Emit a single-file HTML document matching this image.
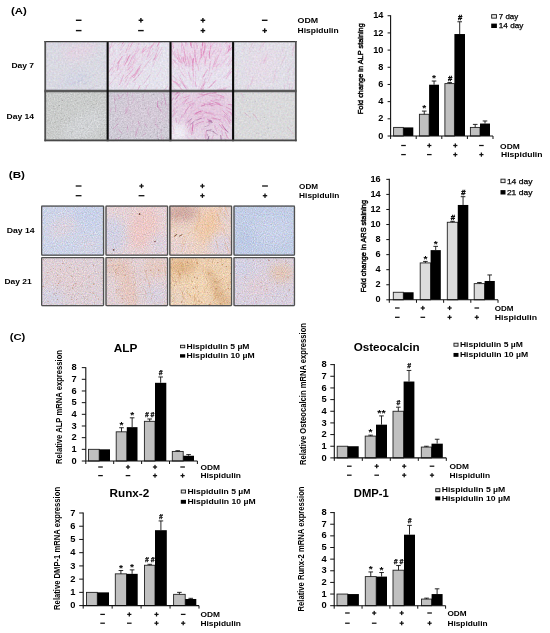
<!DOCTYPE html>
<html><head><meta charset="utf-8"><title>Figure</title>
<style>html,body{margin:0;padding:0;background:#fff}svg{display:block}text{font-family:"Liberation Sans",Arial,sans-serif}</style>
</head><body>
<svg width="550" height="633" viewBox="0 0 550 633">
<defs>
<filter id="nzA" x="0" y="0" width="1" height="1" color-interpolation-filters="sRGB">
<feTurbulence type="fractalNoise" baseFrequency="0.55" numOctaves="2" seed="5" result="t"/>
<feColorMatrix in="t" type="matrix" values="0.6 0.2 0.2 0 0  0.2 0.6 0.2 0 0  0.2 0.2 0.6 0 0  0 0 0 0 1" result="t2"/>
<feComposite in="SourceGraphic" in2="t2" operator="arithmetic" k1="0" k2="1" k3="0.22" k4="-0.11"/>
</filter>
<filter id="nzA2" x="0" y="0" width="1" height="1" color-interpolation-filters="sRGB">
<feTurbulence type="fractalNoise" baseFrequency="0.7" numOctaves="2" seed="9" result="t"/>
<feColorMatrix in="t" type="matrix" values="0.4 0.3 0.3 0 0  0.3 0.4 0.3 0 0  0.3 0.3 0.4 0 0  0 0 0 0 1" result="t2"/>
<feComposite in="SourceGraphic" in2="t2" operator="arithmetic" k1="0" k2="1" k3="0.34" k4="-0.175"/>
</filter>
<filter id="nzB" x="0" y="0" width="1" height="1" color-interpolation-filters="sRGB">
<feTurbulence type="fractalNoise" baseFrequency="0.9" numOctaves="2" seed="21" result="t"/>
<feColorMatrix in="t" type="matrix" values="0.7 0.15 0.15 0 0  0.2 0.6 0.2 0 0  0.15 0.15 0.7 0 0  0 0 0 0 1" result="t2"/>
<feComposite in="SourceGraphic" in2="t2" operator="arithmetic" k1="0" k2="1" k3="0.42" k4="-0.21"/>
</filter>
<filter id="bl3" x="-0.5" y="-0.5" width="2" height="2"><feGaussianBlur stdDeviation="3"/></filter>
<filter id="bl5" x="-0.5" y="-0.5" width="2" height="2"><feGaussianBlur stdDeviation="5"/></filter>
<filter id="bl8" x="-0.5" y="-0.5" width="2" height="2"><feGaussianBlur stdDeviation="8"/></filter>
<filter id="bl04" x="-0.2" y="-0.2" width="1.4" height="1.4"><feGaussianBlur stdDeviation="0.35"/></filter>
<clipPath id="cp1"><rect x="44.4" y="41.1" width="63.25" height="49.80"/></clipPath>
<clipPath id="cp2"><rect x="107.65" y="41.1" width="62.85" height="49.80"/></clipPath>
<clipPath id="cp3"><rect x="170.5" y="41.1" width="62.60" height="49.80"/></clipPath>
<clipPath id="cp4"><rect x="233.1" y="41.1" width="63.60" height="49.80"/></clipPath>
<clipPath id="cp5"><rect x="44.4" y="90.9" width="63.25" height="50.40"/></clipPath>
<clipPath id="cp6"><rect x="107.65" y="90.9" width="62.85" height="50.40"/></clipPath>
<clipPath id="cp7"><rect x="170.5" y="90.9" width="62.60" height="50.40"/></clipPath>
<clipPath id="cp8"><rect x="233.1" y="90.9" width="63.60" height="50.40"/></clipPath>
<clipPath id="cp9"><rect x="41.0" y="205.4" width="63.20" height="50.30"/></clipPath>
<clipPath id="cp10"><rect x="105.4" y="205.4" width="62.80" height="50.30"/></clipPath>
<clipPath id="cp11"><rect x="169.2" y="205.4" width="63.00" height="50.30"/></clipPath>
<clipPath id="cp12"><rect x="233.4" y="205.4" width="61.70" height="50.30"/></clipPath>
<clipPath id="cp13"><rect x="41.0" y="256.9" width="63.20" height="49.30"/></clipPath>
<clipPath id="cp14"><rect x="105.4" y="256.9" width="62.80" height="49.30"/></clipPath>
<clipPath id="cp15"><rect x="169.2" y="256.9" width="63.00" height="49.30"/></clipPath>
<clipPath id="cp16"><rect x="233.4" y="256.9" width="61.70" height="49.30"/></clipPath>
</defs>
<rect width="550" height="633" fill="#fff"/>
<rect x="393.60" y="127.41" width="9.70" height="8.59" fill="#c0c0c0" stroke="#222" stroke-width="0.9"/>
<rect x="403.30" y="127.41" width="10.00" height="8.59" fill="#000"/>
<rect x="419.40" y="114.27" width="9.70" height="21.73" fill="#c0c0c0" stroke="#222" stroke-width="0.9"/>
<rect x="429.10" y="84.72" width="9.90" height="51.28" fill="#000"/>
<path d="M424.25 114.27V111.09M421.95 111.09H426.55" stroke="#111" stroke-width="0.9" fill="none"/>
<text x="422.25" y="111.29" font-size="9.4" font-weight="bold" fill="#000" textLength="4.00" lengthAdjust="spacingAndGlyphs">*</text>
<path d="M434.05 84.72V81.02M431.75 81.02H436.35" stroke="#111" stroke-width="0.9" fill="none"/>
<text x="432.05" y="81.22" font-size="9.4" font-weight="bold" fill="#000" textLength="4.00" lengthAdjust="spacingAndGlyphs">*</text>
<rect x="444.90" y="83.60" width="9.50" height="52.40" fill="#c0c0c0" stroke="#222" stroke-width="0.9"/>
<rect x="454.40" y="34.04" width="10.60" height="101.96" fill="#000"/>
<path d="M449.65 83.60V82.57M447.35 82.57H451.95" stroke="#111" stroke-width="0.9" fill="none"/>
<text x="447.90" y="81.17" font-size="7" font-weight="bold" fill="#000" textLength="4.30" lengthAdjust="spacingAndGlyphs" stroke="#000" stroke-width="0.3">#</text>
<path d="M459.70 34.04V21.75M457.40 21.75H462.00" stroke="#111" stroke-width="0.9" fill="none"/>
<text x="457.95" y="20.35" font-size="7" font-weight="bold" fill="#000" textLength="4.30" lengthAdjust="spacingAndGlyphs" stroke="#000" stroke-width="0.3">#</text>
<rect x="470.40" y="127.41" width="9.60" height="8.59" fill="#c0c0c0" stroke="#222" stroke-width="0.9"/>
<rect x="480.00" y="123.54" width="10.00" height="12.46" fill="#000"/>
<path d="M475.20 127.41V124.40M472.90 124.40H477.50" stroke="#111" stroke-width="0.9" fill="none"/>
<path d="M485.00 123.54V120.97M482.70 120.97H487.30" stroke="#111" stroke-width="0.9" fill="none"/>
<path d="M390.60 15.24V136.00H493.00" stroke="#111" stroke-width="1.1" fill="none"/>
<path d="M387.60 136.00H390.60" stroke="#111" stroke-width="1"/>
<text x="378.30" y="138.60" font-size="8.3" font-weight="bold" fill="#000" textLength="5.10" lengthAdjust="spacingAndGlyphs">0</text>
<path d="M387.60 118.82H390.60" stroke="#111" stroke-width="1"/>
<text x="378.30" y="121.42" font-size="8.3" font-weight="bold" fill="#000" textLength="5.10" lengthAdjust="spacingAndGlyphs">2</text>
<path d="M387.60 101.64H390.60" stroke="#111" stroke-width="1"/>
<text x="378.30" y="104.24" font-size="8.3" font-weight="bold" fill="#000" textLength="5.10" lengthAdjust="spacingAndGlyphs">4</text>
<path d="M387.60 84.46H390.60" stroke="#111" stroke-width="1"/>
<text x="378.30" y="87.06" font-size="8.3" font-weight="bold" fill="#000" textLength="5.10" lengthAdjust="spacingAndGlyphs">6</text>
<path d="M387.60 67.28H390.60" stroke="#111" stroke-width="1"/>
<text x="378.30" y="69.88" font-size="8.3" font-weight="bold" fill="#000" textLength="5.10" lengthAdjust="spacingAndGlyphs">8</text>
<path d="M387.60 50.10H390.60" stroke="#111" stroke-width="1"/>
<text x="373.20" y="52.70" font-size="8.3" font-weight="bold" fill="#000" textLength="10.20" lengthAdjust="spacingAndGlyphs">10</text>
<path d="M387.60 32.92H390.60" stroke="#111" stroke-width="1"/>
<text x="373.20" y="35.52" font-size="8.3" font-weight="bold" fill="#000" textLength="10.20" lengthAdjust="spacingAndGlyphs">12</text>
<path d="M387.60 15.74H390.60" stroke="#111" stroke-width="1"/>
<text x="373.20" y="18.34" font-size="8.3" font-weight="bold" fill="#000" textLength="10.20" lengthAdjust="spacingAndGlyphs">14</text>
<path d="M390.60 136.00V139.00" stroke="#111" stroke-width="1"/>
<path d="M416.20 136.00V139.00" stroke="#111" stroke-width="1"/>
<path d="M441.80 136.00V139.00" stroke="#111" stroke-width="1"/>
<path d="M467.40 136.00V139.00" stroke="#111" stroke-width="1"/>
<path d="M493.00 136.00V139.00" stroke="#111" stroke-width="1"/>
<text transform="translate(363.30,68.70) rotate(-90)" x="-45.50" y="0" font-size="8" font-weight="normal" fill="#000" textLength="91.00" lengthAdjust="spacingAndGlyphs" stroke="#000" stroke-width="0.45">Fold change in ALP staining</text>
<rect x="401.20" y="144.88" width="4.6" height="1.25" fill="#111"/>
<rect x="401.20" y="153.97" width="4.6" height="1.25" fill="#111"/>
<rect x="427.20" y="144.88" width="4.2" height="1.25" fill="#111"/>
<rect x="428.68" y="143.40" width="1.25" height="4.2" fill="#111"/>
<rect x="427.00" y="153.97" width="4.6" height="1.25" fill="#111"/>
<rect x="453.20" y="144.88" width="4.2" height="1.25" fill="#111"/>
<rect x="454.68" y="143.40" width="1.25" height="4.2" fill="#111"/>
<rect x="453.20" y="153.97" width="4.2" height="1.25" fill="#111"/>
<rect x="454.68" y="152.50" width="1.25" height="4.2" fill="#111"/>
<rect x="479.10" y="144.88" width="4.6" height="1.25" fill="#111"/>
<rect x="479.30" y="153.97" width="4.2" height="1.25" fill="#111"/>
<rect x="480.77" y="152.50" width="1.25" height="4.2" fill="#111"/>
<text x="500.10" y="148.70" font-size="7" font-weight="bold" fill="#000" textLength="19.70" lengthAdjust="spacingAndGlyphs">ODM</text>
<text x="501.00" y="156.70" font-size="7" font-weight="bold" fill="#000" textLength="41.40" lengthAdjust="spacingAndGlyphs">Hispidulin</text>
<rect x="491.65" y="14.65" width="4.80" height="3.50" fill="#e4e4e4" stroke="#1a1a1a" stroke-width="0.9"/>
<rect x="491.20" y="23.60" width="5.70" height="4.40" fill="#000"/>
<text x="498.80" y="18.76" font-size="7.6" font-weight="normal" fill="#000" textLength="19.40" lengthAdjust="spacingAndGlyphs" stroke="#000" stroke-width="0.25">7 day</text>
<text x="498.80" y="28.16" font-size="7.6" font-weight="normal" fill="#000" textLength="24.60" lengthAdjust="spacingAndGlyphs" stroke="#000" stroke-width="0.25">14 day</text>
<rect x="393.30" y="292.27" width="10.00" height="7.53" fill="#dcdcdc" stroke="#222" stroke-width="0.9"/>
<rect x="403.30" y="292.27" width="10.30" height="7.53" fill="#000"/>
<rect x="420.20" y="262.92" width="10.40" height="36.88" fill="#dcdcdc" stroke="#222" stroke-width="0.9"/>
<rect x="430.60" y="250.12" width="10.20" height="49.68" fill="#000"/>
<path d="M425.40 262.92V261.41M423.10 261.41H427.70" stroke="#111" stroke-width="0.9" fill="none"/>
<text x="423.40" y="261.61" font-size="9.4" font-weight="bold" fill="#000" textLength="4.00" lengthAdjust="spacingAndGlyphs">*</text>
<path d="M435.70 250.12V246.36M433.40 246.36H438.00" stroke="#111" stroke-width="0.9" fill="none"/>
<text x="433.70" y="246.56" font-size="9.4" font-weight="bold" fill="#000" textLength="4.00" lengthAdjust="spacingAndGlyphs">*</text>
<rect x="447.30" y="222.27" width="10.50" height="77.53" fill="#dcdcdc" stroke="#222" stroke-width="0.9"/>
<rect x="457.80" y="204.96" width="10.50" height="94.84" fill="#000"/>
<path d="M452.55 222.27V221.37M450.25 221.37H454.85" stroke="#111" stroke-width="0.9" fill="none"/>
<text x="450.80" y="219.97" font-size="7" font-weight="bold" fill="#000" textLength="4.30" lengthAdjust="spacingAndGlyphs" stroke="#000" stroke-width="0.3">#</text>
<path d="M463.05 204.96V196.68M460.75 196.68H465.35" stroke="#111" stroke-width="0.9" fill="none"/>
<text x="461.30" y="195.28" font-size="7" font-weight="bold" fill="#000" textLength="4.30" lengthAdjust="spacingAndGlyphs" stroke="#000" stroke-width="0.3">#</text>
<rect x="474.20" y="283.62" width="10.40" height="16.18" fill="#dcdcdc" stroke="#222" stroke-width="0.9"/>
<rect x="484.60" y="280.98" width="10.20" height="18.82" fill="#000"/>
<path d="M479.40 283.62V282.49M477.10 282.49H481.70" stroke="#111" stroke-width="0.9" fill="none"/>
<path d="M489.70 280.98V274.96M487.40 274.96H492.00" stroke="#111" stroke-width="0.9" fill="none"/>
<path d="M389.30 178.87V299.80H498.00" stroke="#111" stroke-width="1.1" fill="none"/>
<path d="M386.30 299.80H389.30" stroke="#111" stroke-width="1"/>
<text x="375.50" y="302.40" font-size="8.3" font-weight="bold" fill="#000" textLength="5.10" lengthAdjust="spacingAndGlyphs">0</text>
<path d="M386.30 284.75H389.30" stroke="#111" stroke-width="1"/>
<text x="375.50" y="287.35" font-size="8.3" font-weight="bold" fill="#000" textLength="5.10" lengthAdjust="spacingAndGlyphs">2</text>
<path d="M386.30 269.69H389.30" stroke="#111" stroke-width="1"/>
<text x="375.50" y="272.29" font-size="8.3" font-weight="bold" fill="#000" textLength="5.10" lengthAdjust="spacingAndGlyphs">4</text>
<path d="M386.30 254.64H389.30" stroke="#111" stroke-width="1"/>
<text x="375.50" y="257.24" font-size="8.3" font-weight="bold" fill="#000" textLength="5.10" lengthAdjust="spacingAndGlyphs">6</text>
<path d="M386.30 239.58H389.30" stroke="#111" stroke-width="1"/>
<text x="375.50" y="242.18" font-size="8.3" font-weight="bold" fill="#000" textLength="5.10" lengthAdjust="spacingAndGlyphs">8</text>
<path d="M386.30 224.53H389.30" stroke="#111" stroke-width="1"/>
<text x="370.40" y="227.13" font-size="8.3" font-weight="bold" fill="#000" textLength="10.20" lengthAdjust="spacingAndGlyphs">10</text>
<path d="M386.30 209.48H389.30" stroke="#111" stroke-width="1"/>
<text x="370.40" y="212.08" font-size="8.3" font-weight="bold" fill="#000" textLength="10.20" lengthAdjust="spacingAndGlyphs">12</text>
<path d="M386.30 194.42H389.30" stroke="#111" stroke-width="1"/>
<text x="370.40" y="197.02" font-size="8.3" font-weight="bold" fill="#000" textLength="10.20" lengthAdjust="spacingAndGlyphs">14</text>
<path d="M386.30 179.37H389.30" stroke="#111" stroke-width="1"/>
<text x="370.40" y="181.97" font-size="8.3" font-weight="bold" fill="#000" textLength="10.20" lengthAdjust="spacingAndGlyphs">16</text>
<path d="M389.30 299.80V302.80" stroke="#111" stroke-width="1"/>
<path d="M416.48 299.80V302.80" stroke="#111" stroke-width="1"/>
<path d="M443.65 299.80V302.80" stroke="#111" stroke-width="1"/>
<path d="M470.82 299.80V302.80" stroke="#111" stroke-width="1"/>
<path d="M498.00 299.80V302.80" stroke="#111" stroke-width="1"/>
<text transform="translate(366.10,246.30) rotate(-90)" x="-46.30" y="0" font-size="8" font-weight="normal" fill="#000" textLength="92.60" lengthAdjust="spacingAndGlyphs" stroke="#000" stroke-width="0.45">Fold change in ARS staining</text>
<rect x="395.00" y="307.38" width="4.6" height="1.25" fill="#111"/>
<rect x="395.00" y="316.68" width="4.6" height="1.25" fill="#111"/>
<rect x="420.70" y="307.38" width="4.2" height="1.25" fill="#111"/>
<rect x="422.18" y="305.90" width="1.25" height="4.2" fill="#111"/>
<rect x="420.50" y="316.68" width="4.6" height="1.25" fill="#111"/>
<rect x="447.50" y="307.38" width="4.2" height="1.25" fill="#111"/>
<rect x="448.98" y="305.90" width="1.25" height="4.2" fill="#111"/>
<rect x="447.50" y="316.68" width="4.2" height="1.25" fill="#111"/>
<rect x="448.98" y="315.20" width="1.25" height="4.2" fill="#111"/>
<rect x="474.50" y="307.38" width="4.6" height="1.25" fill="#111"/>
<rect x="474.70" y="316.68" width="4.2" height="1.25" fill="#111"/>
<rect x="476.18" y="315.20" width="1.25" height="4.2" fill="#111"/>
<text x="494.80" y="310.50" font-size="7" font-weight="bold" fill="#000" textLength="18.80" lengthAdjust="spacingAndGlyphs">ODM</text>
<text x="494.80" y="319.80" font-size="7" font-weight="bold" fill="#000" textLength="42.30" lengthAdjust="spacingAndGlyphs">Hispidulin</text>
<rect x="500.95" y="179.15" width="4.10" height="3.50" fill="#ececec" stroke="#1a1a1a" stroke-width="0.9"/>
<rect x="500.50" y="190.10" width="5.00" height="4.40" fill="#000"/>
<text x="506.90" y="183.64" font-size="7.6" font-weight="normal" fill="#000" textLength="25.50" lengthAdjust="spacingAndGlyphs" stroke="#000" stroke-width="0.25">14 day</text>
<text x="506.90" y="195.04" font-size="7.6" font-weight="normal" fill="#000" textLength="25.50" lengthAdjust="spacingAndGlyphs" stroke="#000" stroke-width="0.25">21 day</text>
<rect x="88.50" y="449.33" width="10.70" height="11.67" fill="#c0c0c0" stroke="#222" stroke-width="0.9"/>
<rect x="99.20" y="449.33" width="10.80" height="11.67" fill="#000"/>
<rect x="116.20" y="431.82" width="10.60" height="29.18" fill="#c0c0c0" stroke="#222" stroke-width="0.9"/>
<rect x="126.80" y="427.16" width="10.70" height="33.84" fill="#000"/>
<path d="M121.50 431.82V427.74M119.20 427.74H123.80" stroke="#111" stroke-width="0.9" fill="none"/>
<text x="119.50" y="427.94" font-size="9.4" font-weight="bold" fill="#000" textLength="4.00" lengthAdjust="spacingAndGlyphs">*</text>
<path d="M132.15 427.16V417.82M129.85 417.82H134.45" stroke="#111" stroke-width="0.9" fill="none"/>
<text x="130.15" y="418.02" font-size="9.4" font-weight="bold" fill="#000" textLength="4.00" lengthAdjust="spacingAndGlyphs">*</text>
<rect x="144.40" y="421.32" width="10.60" height="39.68" fill="#c0c0c0" stroke="#222" stroke-width="0.9"/>
<rect x="155.00" y="382.81" width="11.30" height="78.19" fill="#000"/>
<path d="M149.70 421.32V418.99M147.40 418.99H152.00" stroke="#111" stroke-width="0.9" fill="none"/>
<text x="145.05" y="416.99" font-size="6.6" font-weight="bold" fill="#000" textLength="9.30" lengthAdjust="spacingAndGlyphs" font-style="italic" stroke="#000" stroke-width="0.25"># #</text>
<path d="M160.65 382.81V376.98M158.35 376.98H162.95" stroke="#111" stroke-width="0.9" fill="none"/>
<text x="158.80" y="374.98" font-size="6.6" font-weight="bold" fill="#000" textLength="3.70" lengthAdjust="spacingAndGlyphs" font-style="italic" stroke="#000" stroke-width="0.25">#</text>
<rect x="172.30" y="451.43" width="10.90" height="9.57" fill="#c0c0c0" stroke="#222" stroke-width="0.9"/>
<rect x="183.20" y="455.75" width="10.80" height="5.25" fill="#000"/>
<path d="M177.75 451.43V450.73M175.45 450.73H180.05" stroke="#111" stroke-width="0.9" fill="none"/>
<path d="M188.60 455.75V454.58M186.30 454.58H190.90" stroke="#111" stroke-width="0.9" fill="none"/>
<path d="M85.80 367.14V461.00H197.40" stroke="#111" stroke-width="1.1" fill="none"/>
<path d="M81.80 461.00H85.80" stroke="#111" stroke-width="1"/>
<text x="71.40" y="463.60" font-size="8.3" font-weight="bold" fill="#000" textLength="5.20" lengthAdjust="spacingAndGlyphs">0</text>
<path d="M81.80 449.33H85.80" stroke="#111" stroke-width="1"/>
<text x="71.40" y="451.93" font-size="8.3" font-weight="bold" fill="#000" textLength="5.20" lengthAdjust="spacingAndGlyphs">1</text>
<path d="M81.80 437.66H85.80" stroke="#111" stroke-width="1"/>
<text x="71.40" y="440.26" font-size="8.3" font-weight="bold" fill="#000" textLength="5.20" lengthAdjust="spacingAndGlyphs">2</text>
<path d="M81.80 425.99H85.80" stroke="#111" stroke-width="1"/>
<text x="71.40" y="428.59" font-size="8.3" font-weight="bold" fill="#000" textLength="5.20" lengthAdjust="spacingAndGlyphs">3</text>
<path d="M81.80 414.32H85.80" stroke="#111" stroke-width="1"/>
<text x="71.40" y="416.92" font-size="8.3" font-weight="bold" fill="#000" textLength="5.20" lengthAdjust="spacingAndGlyphs">4</text>
<path d="M81.80 402.65H85.80" stroke="#111" stroke-width="1"/>
<text x="71.40" y="405.25" font-size="8.3" font-weight="bold" fill="#000" textLength="5.20" lengthAdjust="spacingAndGlyphs">5</text>
<path d="M81.80 390.98H85.80" stroke="#111" stroke-width="1"/>
<text x="71.40" y="393.58" font-size="8.3" font-weight="bold" fill="#000" textLength="5.20" lengthAdjust="spacingAndGlyphs">6</text>
<path d="M81.80 379.31H85.80" stroke="#111" stroke-width="1"/>
<text x="71.40" y="381.91" font-size="8.3" font-weight="bold" fill="#000" textLength="5.20" lengthAdjust="spacingAndGlyphs">7</text>
<path d="M81.80 367.64H85.80" stroke="#111" stroke-width="1"/>
<text x="71.40" y="370.24" font-size="8.3" font-weight="bold" fill="#000" textLength="5.20" lengthAdjust="spacingAndGlyphs">8</text>
<path d="M85.80 461.00V464.00" stroke="#111" stroke-width="1"/>
<path d="M113.70 461.00V464.00" stroke="#111" stroke-width="1"/>
<path d="M141.60 461.00V464.00" stroke="#111" stroke-width="1"/>
<path d="M169.50 461.00V464.00" stroke="#111" stroke-width="1"/>
<path d="M197.40 461.00V464.00" stroke="#111" stroke-width="1"/>
<text transform="translate(61.80,407.00) rotate(-90)" x="-57.00" y="0" font-size="8.2" font-weight="bold" fill="#000" textLength="114.00" lengthAdjust="spacingAndGlyphs">Relative ALP mRNA expression</text>
<rect x="98.20" y="466.38" width="4.6" height="1.25" fill="#111"/>
<rect x="98.20" y="474.98" width="4.6" height="1.25" fill="#111"/>
<rect x="125.90" y="466.38" width="4.2" height="1.25" fill="#111"/>
<rect x="127.38" y="464.90" width="1.25" height="4.2" fill="#111"/>
<rect x="125.70" y="474.98" width="4.6" height="1.25" fill="#111"/>
<rect x="152.90" y="466.38" width="4.2" height="1.25" fill="#111"/>
<rect x="154.38" y="464.90" width="1.25" height="4.2" fill="#111"/>
<rect x="152.90" y="474.98" width="4.2" height="1.25" fill="#111"/>
<rect x="154.38" y="473.50" width="1.25" height="4.2" fill="#111"/>
<rect x="180.30" y="466.38" width="4.6" height="1.25" fill="#111"/>
<rect x="180.50" y="474.98" width="4.2" height="1.25" fill="#111"/>
<rect x="181.97" y="473.50" width="1.25" height="4.2" fill="#111"/>
<text x="200.40" y="469.50" font-size="7" font-weight="bold" fill="#000" textLength="19.50" lengthAdjust="spacingAndGlyphs">ODM</text>
<text x="200.40" y="478.10" font-size="7" font-weight="bold" fill="#000" textLength="40.60" lengthAdjust="spacingAndGlyphs">Hispidulin</text>
<rect x="180.45" y="345.25" width="4.30" height="2.50" fill="#e4e4e4" stroke="#1a1a1a" stroke-width="0.9"/>
<rect x="180.00" y="354.20" width="5.20" height="3.40" fill="#000"/>
<text x="186.50" y="348.61" font-size="6.6" font-weight="bold" fill="#000" textLength="63.00" lengthAdjust="spacingAndGlyphs">Hispidulin 5 µM</text>
<text x="186.50" y="358.01" font-size="6.6" font-weight="bold" fill="#000" textLength="68.20" lengthAdjust="spacingAndGlyphs">Hispidulin 10 µM</text>
<text x="113.75" y="352.40" font-size="10.6" font-weight="bold" fill="#000" textLength="23.70" lengthAdjust="spacingAndGlyphs">ALP</text>
<rect x="337.20" y="446.24" width="10.50" height="11.66" fill="#c0c0c0" stroke="#222" stroke-width="0.9"/>
<rect x="347.70" y="446.24" width="11.00" height="11.66" fill="#000"/>
<rect x="365.20" y="436.10" width="10.80" height="21.80" fill="#c0c0c0" stroke="#222" stroke-width="0.9"/>
<rect x="376.00" y="424.67" width="11.00" height="33.23" fill="#000"/>
<path d="M370.60 436.10V435.16M368.30 435.16H372.90" stroke="#111" stroke-width="0.9" fill="none"/>
<text x="368.60" y="435.36" font-size="9.4" font-weight="bold" fill="#000" textLength="4.00" lengthAdjust="spacingAndGlyphs">*</text>
<path d="M381.50 424.67V415.92M379.20 415.92H383.80" stroke="#111" stroke-width="0.9" fill="none"/>
<text x="377.30" y="416.12" font-size="9.4" font-weight="bold" fill="#000" textLength="8.40" lengthAdjust="spacingAndGlyphs">**</text>
<rect x="393.00" y="411.26" width="10.60" height="46.64" fill="#c0c0c0" stroke="#222" stroke-width="0.9"/>
<rect x="403.60" y="381.53" width="10.80" height="76.37" fill="#000"/>
<path d="M398.30 411.26V407.18M396.00 407.18H400.60" stroke="#111" stroke-width="0.9" fill="none"/>
<text x="396.45" y="405.18" font-size="6.6" font-weight="bold" fill="#000" textLength="3.70" lengthAdjust="spacingAndGlyphs" font-style="italic" stroke="#000" stroke-width="0.25">#</text>
<path d="M409.00 381.53V370.45M406.70 370.45H411.30" stroke="#111" stroke-width="0.9" fill="none"/>
<text x="407.15" y="368.45" font-size="6.6" font-weight="bold" fill="#000" textLength="3.70" lengthAdjust="spacingAndGlyphs" font-style="italic" stroke="#000" stroke-width="0.25">#</text>
<rect x="421.30" y="447.06" width="10.20" height="10.84" fill="#c0c0c0" stroke="#222" stroke-width="0.9"/>
<rect x="431.50" y="443.67" width="11.30" height="14.23" fill="#000"/>
<path d="M426.40 447.06V446.24M424.10 446.24H428.70" stroke="#111" stroke-width="0.9" fill="none"/>
<path d="M437.15 443.67V439.24M434.85 439.24H439.45" stroke="#111" stroke-width="0.9" fill="none"/>
<path d="M334.30 364.12V457.90H446.30" stroke="#111" stroke-width="1.1" fill="none"/>
<path d="M330.30 457.90H334.30" stroke="#111" stroke-width="1"/>
<text x="321.50" y="460.50" font-size="8.3" font-weight="bold" fill="#000" textLength="5.20" lengthAdjust="spacingAndGlyphs">0</text>
<path d="M330.30 446.24H334.30" stroke="#111" stroke-width="1"/>
<text x="321.50" y="448.84" font-size="8.3" font-weight="bold" fill="#000" textLength="5.20" lengthAdjust="spacingAndGlyphs">1</text>
<path d="M330.30 434.58H334.30" stroke="#111" stroke-width="1"/>
<text x="321.50" y="437.18" font-size="8.3" font-weight="bold" fill="#000" textLength="5.20" lengthAdjust="spacingAndGlyphs">2</text>
<path d="M330.30 422.92H334.30" stroke="#111" stroke-width="1"/>
<text x="321.50" y="425.52" font-size="8.3" font-weight="bold" fill="#000" textLength="5.20" lengthAdjust="spacingAndGlyphs">3</text>
<path d="M330.30 411.26H334.30" stroke="#111" stroke-width="1"/>
<text x="321.50" y="413.86" font-size="8.3" font-weight="bold" fill="#000" textLength="5.20" lengthAdjust="spacingAndGlyphs">4</text>
<path d="M330.30 399.60H334.30" stroke="#111" stroke-width="1"/>
<text x="321.50" y="402.20" font-size="8.3" font-weight="bold" fill="#000" textLength="5.20" lengthAdjust="spacingAndGlyphs">5</text>
<path d="M330.30 387.94H334.30" stroke="#111" stroke-width="1"/>
<text x="321.50" y="390.54" font-size="8.3" font-weight="bold" fill="#000" textLength="5.20" lengthAdjust="spacingAndGlyphs">6</text>
<path d="M330.30 376.28H334.30" stroke="#111" stroke-width="1"/>
<text x="321.50" y="378.88" font-size="8.3" font-weight="bold" fill="#000" textLength="5.20" lengthAdjust="spacingAndGlyphs">7</text>
<path d="M330.30 364.62H334.30" stroke="#111" stroke-width="1"/>
<text x="321.50" y="367.22" font-size="8.3" font-weight="bold" fill="#000" textLength="5.20" lengthAdjust="spacingAndGlyphs">8</text>
<path d="M334.30 457.90V460.90" stroke="#111" stroke-width="1"/>
<path d="M362.30 457.90V460.90" stroke="#111" stroke-width="1"/>
<path d="M390.30 457.90V460.90" stroke="#111" stroke-width="1"/>
<path d="M418.30 457.90V460.90" stroke="#111" stroke-width="1"/>
<path d="M446.30 457.90V460.90" stroke="#111" stroke-width="1"/>
<text transform="translate(305.60,394.00) rotate(-90)" x="-71.00" y="0" font-size="8.2" font-weight="bold" fill="#000" textLength="142.00" lengthAdjust="spacingAndGlyphs">Relative Osteocalcin mRNA expression</text>
<rect x="347.00" y="465.57" width="4.6" height="1.25" fill="#111"/>
<rect x="347.00" y="474.57" width="4.6" height="1.25" fill="#111"/>
<rect x="374.60" y="465.57" width="4.2" height="1.25" fill="#111"/>
<rect x="376.07" y="464.10" width="1.25" height="4.2" fill="#111"/>
<rect x="374.40" y="474.57" width="4.6" height="1.25" fill="#111"/>
<rect x="402.10" y="465.57" width="4.2" height="1.25" fill="#111"/>
<rect x="403.57" y="464.10" width="1.25" height="4.2" fill="#111"/>
<rect x="402.10" y="474.57" width="4.2" height="1.25" fill="#111"/>
<rect x="403.57" y="473.10" width="1.25" height="4.2" fill="#111"/>
<rect x="429.70" y="465.57" width="4.6" height="1.25" fill="#111"/>
<rect x="429.90" y="474.57" width="4.2" height="1.25" fill="#111"/>
<rect x="431.38" y="473.10" width="1.25" height="4.2" fill="#111"/>
<text x="449.50" y="468.70" font-size="7" font-weight="bold" fill="#000" textLength="19.50" lengthAdjust="spacingAndGlyphs">ODM</text>
<text x="449.50" y="477.70" font-size="7" font-weight="bold" fill="#000" textLength="40.60" lengthAdjust="spacingAndGlyphs">Hispidulin</text>
<rect x="453.95" y="343.20" width="4.10" height="3.00" fill="#e4e4e4" stroke="#1a1a1a" stroke-width="0.9"/>
<rect x="453.50" y="352.95" width="5.00" height="3.90" fill="#000"/>
<text x="459.90" y="346.81" font-size="6.6" font-weight="bold" fill="#000" textLength="63.00" lengthAdjust="spacingAndGlyphs">Hispidulin 5 µM</text>
<text x="459.90" y="357.01" font-size="6.6" font-weight="bold" fill="#000" textLength="68.20" lengthAdjust="spacingAndGlyphs">Hispidulin 10 µM</text>
<text x="353.70" y="351.00" font-size="10" font-weight="bold" fill="#000" textLength="66.00" lengthAdjust="spacingAndGlyphs">Osteocalcin</text>
<rect x="86.50" y="592.37" width="10.80" height="13.23" fill="#c0c0c0" stroke="#222" stroke-width="0.9"/>
<rect x="97.30" y="592.37" width="11.70" height="13.23" fill="#000"/>
<rect x="115.30" y="573.85" width="11.20" height="31.75" fill="#c0c0c0" stroke="#222" stroke-width="0.9"/>
<rect x="126.50" y="573.85" width="11.20" height="31.75" fill="#000"/>
<path d="M120.90 573.85V570.54M118.60 570.54H123.20" stroke="#111" stroke-width="0.9" fill="none"/>
<text x="118.90" y="570.74" font-size="9.4" font-weight="bold" fill="#000" textLength="4.00" lengthAdjust="spacingAndGlyphs">*</text>
<path d="M132.10 573.85V569.88M129.80 569.88H134.40" stroke="#111" stroke-width="0.9" fill="none"/>
<text x="130.10" y="570.08" font-size="9.4" font-weight="bold" fill="#000" textLength="4.00" lengthAdjust="spacingAndGlyphs">*</text>
<rect x="144.50" y="565.25" width="10.50" height="40.35" fill="#c0c0c0" stroke="#222" stroke-width="0.9"/>
<rect x="155.00" y="530.19" width="11.80" height="75.41" fill="#000"/>
<path d="M149.75 565.25V564.32M147.45 564.32H152.05" stroke="#111" stroke-width="0.9" fill="none"/>
<text x="145.10" y="562.32" font-size="6.6" font-weight="bold" fill="#000" textLength="9.30" lengthAdjust="spacingAndGlyphs" font-style="italic" stroke="#000" stroke-width="0.25"># #</text>
<path d="M160.90 530.19V520.93M158.60 520.93H163.20" stroke="#111" stroke-width="0.9" fill="none"/>
<text x="159.05" y="518.93" font-size="6.6" font-weight="bold" fill="#000" textLength="3.70" lengthAdjust="spacingAndGlyphs" font-style="italic" stroke="#000" stroke-width="0.25">#</text>
<rect x="173.60" y="594.35" width="11.60" height="11.25" fill="#c0c0c0" stroke="#222" stroke-width="0.9"/>
<rect x="185.20" y="598.99" width="11.10" height="6.62" fill="#000"/>
<path d="M179.40 594.35V592.37M177.10 592.37H181.70" stroke="#111" stroke-width="0.9" fill="none"/>
<path d="M190.75 598.99V598.32M188.45 598.32H193.05" stroke="#111" stroke-width="0.9" fill="none"/>
<path d="M83.20 512.49V605.60H199.00" stroke="#111" stroke-width="1.1" fill="none"/>
<path d="M79.20 605.60H83.20" stroke="#111" stroke-width="1"/>
<text x="70.20" y="608.20" font-size="8.3" font-weight="bold" fill="#000" textLength="5.20" lengthAdjust="spacingAndGlyphs">0</text>
<path d="M79.20 592.37H83.20" stroke="#111" stroke-width="1"/>
<text x="70.20" y="594.97" font-size="8.3" font-weight="bold" fill="#000" textLength="5.20" lengthAdjust="spacingAndGlyphs">1</text>
<path d="M79.20 579.14H83.20" stroke="#111" stroke-width="1"/>
<text x="70.20" y="581.74" font-size="8.3" font-weight="bold" fill="#000" textLength="5.20" lengthAdjust="spacingAndGlyphs">2</text>
<path d="M79.20 565.91H83.20" stroke="#111" stroke-width="1"/>
<text x="70.20" y="568.51" font-size="8.3" font-weight="bold" fill="#000" textLength="5.20" lengthAdjust="spacingAndGlyphs">3</text>
<path d="M79.20 552.68H83.20" stroke="#111" stroke-width="1"/>
<text x="70.20" y="555.28" font-size="8.3" font-weight="bold" fill="#000" textLength="5.20" lengthAdjust="spacingAndGlyphs">4</text>
<path d="M79.20 539.45H83.20" stroke="#111" stroke-width="1"/>
<text x="70.20" y="542.05" font-size="8.3" font-weight="bold" fill="#000" textLength="5.20" lengthAdjust="spacingAndGlyphs">5</text>
<path d="M79.20 526.22H83.20" stroke="#111" stroke-width="1"/>
<text x="70.20" y="528.82" font-size="8.3" font-weight="bold" fill="#000" textLength="5.20" lengthAdjust="spacingAndGlyphs">6</text>
<path d="M79.20 512.99H83.20" stroke="#111" stroke-width="1"/>
<text x="70.20" y="515.59" font-size="8.3" font-weight="bold" fill="#000" textLength="5.20" lengthAdjust="spacingAndGlyphs">7</text>
<path d="M83.20 605.60V608.60" stroke="#111" stroke-width="1"/>
<path d="M112.15 605.60V608.60" stroke="#111" stroke-width="1"/>
<path d="M141.10 605.60V608.60" stroke="#111" stroke-width="1"/>
<path d="M170.05 605.60V608.60" stroke="#111" stroke-width="1"/>
<path d="M199.00 605.60V608.60" stroke="#111" stroke-width="1"/>
<text transform="translate(60.30,548.40) rotate(-90)" x="-61.50" y="0" font-size="8.2" font-weight="bold" fill="#000" textLength="123.00" lengthAdjust="spacingAndGlyphs">Relative DMP-1 mRNA expression</text>
<rect x="100.30" y="613.77" width="4.6" height="1.25" fill="#111"/>
<rect x="100.30" y="622.58" width="4.6" height="1.25" fill="#111"/>
<rect x="127.20" y="613.77" width="4.2" height="1.25" fill="#111"/>
<rect x="128.68" y="612.30" width="1.25" height="4.2" fill="#111"/>
<rect x="127.00" y="622.58" width="4.6" height="1.25" fill="#111"/>
<rect x="154.40" y="613.77" width="4.2" height="1.25" fill="#111"/>
<rect x="155.88" y="612.30" width="1.25" height="4.2" fill="#111"/>
<rect x="154.40" y="622.58" width="4.2" height="1.25" fill="#111"/>
<rect x="155.88" y="621.10" width="1.25" height="4.2" fill="#111"/>
<rect x="180.90" y="613.77" width="4.6" height="1.25" fill="#111"/>
<rect x="181.10" y="622.58" width="4.2" height="1.25" fill="#111"/>
<rect x="182.57" y="621.10" width="1.25" height="4.2" fill="#111"/>
<text x="200.40" y="616.90" font-size="7" font-weight="bold" fill="#000" textLength="19.50" lengthAdjust="spacingAndGlyphs">ODM</text>
<text x="200.40" y="625.70" font-size="7" font-weight="bold" fill="#000" textLength="40.60" lengthAdjust="spacingAndGlyphs">Hispidulin</text>
<rect x="181.25" y="490.00" width="4.30" height="3.00" fill="#e4e4e4" stroke="#1a1a1a" stroke-width="0.9"/>
<rect x="180.80" y="499.85" width="5.20" height="3.90" fill="#000"/>
<text x="187.40" y="493.61" font-size="6.6" font-weight="bold" fill="#000" textLength="63.00" lengthAdjust="spacingAndGlyphs">Hispidulin 5 µM</text>
<text x="187.40" y="503.91" font-size="6.6" font-weight="bold" fill="#000" textLength="68.20" lengthAdjust="spacingAndGlyphs">Hispidulin 10 µM</text>
<text x="109.55" y="497.00" font-size="10.6" font-weight="bold" fill="#000" textLength="39.70" lengthAdjust="spacingAndGlyphs">Runx-2</text>
<rect x="337.00" y="594.06" width="10.70" height="11.64" fill="#c0c0c0" stroke="#222" stroke-width="0.9"/>
<rect x="347.70" y="594.06" width="11.20" height="11.64" fill="#000"/>
<rect x="365.30" y="576.60" width="10.90" height="29.10" fill="#c0c0c0" stroke="#222" stroke-width="0.9"/>
<rect x="376.20" y="576.60" width="10.80" height="29.10" fill="#000"/>
<path d="M370.75 576.60V571.94M368.45 571.94H373.05" stroke="#111" stroke-width="0.9" fill="none"/>
<text x="368.75" y="572.14" font-size="9.4" font-weight="bold" fill="#000" textLength="4.00" lengthAdjust="spacingAndGlyphs">*</text>
<path d="M381.60 576.60V572.53M379.30 572.53H383.90" stroke="#111" stroke-width="0.9" fill="none"/>
<text x="379.60" y="572.73" font-size="9.4" font-weight="bold" fill="#000" textLength="4.00" lengthAdjust="spacingAndGlyphs">*</text>
<rect x="393.00" y="570.20" width="11.00" height="35.50" fill="#c0c0c0" stroke="#222" stroke-width="0.9"/>
<rect x="404.00" y="534.70" width="11.00" height="71.00" fill="#000"/>
<path d="M398.50 570.20V565.54M396.20 565.54H400.80" stroke="#111" stroke-width="0.9" fill="none"/>
<text x="393.85" y="563.54" font-size="6.6" font-weight="bold" fill="#000" textLength="9.30" lengthAdjust="spacingAndGlyphs" font-style="italic" stroke="#000" stroke-width="0.25"># #</text>
<path d="M409.50 534.70V525.38M407.20 525.38H411.80" stroke="#111" stroke-width="0.9" fill="none"/>
<text x="407.65" y="523.38" font-size="6.6" font-weight="bold" fill="#000" textLength="3.70" lengthAdjust="spacingAndGlyphs" font-style="italic" stroke="#000" stroke-width="0.25">#</text>
<rect x="421.50" y="599.07" width="10.10" height="6.63" fill="#c0c0c0" stroke="#222" stroke-width="0.9"/>
<rect x="431.60" y="594.06" width="11.00" height="11.64" fill="#000"/>
<path d="M426.55 599.07V598.13M424.25 598.13H428.85" stroke="#111" stroke-width="0.9" fill="none"/>
<path d="M437.10 594.06V588.82M434.80 588.82H439.40" stroke="#111" stroke-width="0.9" fill="none"/>
<path d="M334.20 512.08V605.70H445.60" stroke="#111" stroke-width="1.1" fill="none"/>
<path d="M330.20 605.70H334.20" stroke="#111" stroke-width="1"/>
<text x="321.50" y="608.30" font-size="8.3" font-weight="bold" fill="#000" textLength="5.20" lengthAdjust="spacingAndGlyphs">0</text>
<path d="M330.20 594.06H334.20" stroke="#111" stroke-width="1"/>
<text x="321.50" y="596.66" font-size="8.3" font-weight="bold" fill="#000" textLength="5.20" lengthAdjust="spacingAndGlyphs">1</text>
<path d="M330.20 582.42H334.20" stroke="#111" stroke-width="1"/>
<text x="321.50" y="585.02" font-size="8.3" font-weight="bold" fill="#000" textLength="5.20" lengthAdjust="spacingAndGlyphs">2</text>
<path d="M330.20 570.78H334.20" stroke="#111" stroke-width="1"/>
<text x="321.50" y="573.38" font-size="8.3" font-weight="bold" fill="#000" textLength="5.20" lengthAdjust="spacingAndGlyphs">3</text>
<path d="M330.20 559.14H334.20" stroke="#111" stroke-width="1"/>
<text x="321.50" y="561.74" font-size="8.3" font-weight="bold" fill="#000" textLength="5.20" lengthAdjust="spacingAndGlyphs">4</text>
<path d="M330.20 547.50H334.20" stroke="#111" stroke-width="1"/>
<text x="321.50" y="550.10" font-size="8.3" font-weight="bold" fill="#000" textLength="5.20" lengthAdjust="spacingAndGlyphs">5</text>
<path d="M330.20 535.86H334.20" stroke="#111" stroke-width="1"/>
<text x="321.50" y="538.46" font-size="8.3" font-weight="bold" fill="#000" textLength="5.20" lengthAdjust="spacingAndGlyphs">6</text>
<path d="M330.20 524.22H334.20" stroke="#111" stroke-width="1"/>
<text x="321.50" y="526.82" font-size="8.3" font-weight="bold" fill="#000" textLength="5.20" lengthAdjust="spacingAndGlyphs">7</text>
<path d="M330.20 512.58H334.20" stroke="#111" stroke-width="1"/>
<text x="321.50" y="515.18" font-size="8.3" font-weight="bold" fill="#000" textLength="5.20" lengthAdjust="spacingAndGlyphs">8</text>
<path d="M334.20 605.70V608.70" stroke="#111" stroke-width="1"/>
<path d="M362.05 605.70V608.70" stroke="#111" stroke-width="1"/>
<path d="M389.90 605.70V608.70" stroke="#111" stroke-width="1"/>
<path d="M417.75 605.70V608.70" stroke="#111" stroke-width="1"/>
<path d="M445.60 605.70V608.70" stroke="#111" stroke-width="1"/>
<text transform="translate(304.40,549.00) rotate(-90)" x="-62.50" y="0" font-size="8.2" font-weight="bold" fill="#000" textLength="125.00" lengthAdjust="spacingAndGlyphs">Relative Runx-2 mRNA expression</text>
<rect x="345.10" y="612.38" width="4.6" height="1.25" fill="#111"/>
<rect x="345.10" y="622.58" width="4.6" height="1.25" fill="#111"/>
<rect x="372.10" y="612.38" width="4.2" height="1.25" fill="#111"/>
<rect x="373.57" y="610.90" width="1.25" height="4.2" fill="#111"/>
<rect x="371.90" y="622.58" width="4.6" height="1.25" fill="#111"/>
<rect x="399.60" y="612.38" width="4.2" height="1.25" fill="#111"/>
<rect x="401.07" y="610.90" width="1.25" height="4.2" fill="#111"/>
<rect x="399.60" y="622.58" width="4.2" height="1.25" fill="#111"/>
<rect x="401.07" y="621.10" width="1.25" height="4.2" fill="#111"/>
<rect x="427.30" y="612.38" width="4.6" height="1.25" fill="#111"/>
<rect x="427.50" y="622.58" width="4.2" height="1.25" fill="#111"/>
<rect x="428.98" y="621.10" width="1.25" height="4.2" fill="#111"/>
<text x="447.40" y="615.50" font-size="7" font-weight="bold" fill="#000" textLength="19.20" lengthAdjust="spacingAndGlyphs">ODM</text>
<text x="447.40" y="625.70" font-size="7" font-weight="bold" fill="#000" textLength="40.20" lengthAdjust="spacingAndGlyphs">Hispidulin</text>
<rect x="435.75" y="488.70" width="4.10" height="3.00" fill="#e4e4e4" stroke="#1a1a1a" stroke-width="0.9"/>
<rect x="435.30" y="496.45" width="5.00" height="3.90" fill="#000"/>
<text x="441.70" y="492.31" font-size="6.6" font-weight="bold" fill="#000" textLength="63.60" lengthAdjust="spacingAndGlyphs">Hispidulin 5 µM</text>
<text x="441.70" y="500.51" font-size="6.6" font-weight="bold" fill="#000" textLength="68.50" lengthAdjust="spacingAndGlyphs">Hispidulin 10 µM</text>
<text x="353.80" y="497.00" font-size="10.6" font-weight="bold" fill="#000" textLength="35.00" lengthAdjust="spacingAndGlyphs">DMP-1</text>
<text x="10.90" y="14.20" font-size="8.2" font-weight="bold" fill="#000" textLength="15.80" lengthAdjust="spacingAndGlyphs">(A)</text>
<text x="8.80" y="178.00" font-size="8.2" font-weight="bold" fill="#000" textLength="16.20" lengthAdjust="spacingAndGlyphs">(B)</text>
<text x="9.70" y="339.80" font-size="8.2" font-weight="bold" fill="#000" textLength="15.70" lengthAdjust="spacingAndGlyphs">(C)</text>
<text x="11.40" y="68.30" font-size="7" font-weight="bold" fill="#000" textLength="22.70" lengthAdjust="spacingAndGlyphs">Day 7</text>
<text x="6.60" y="118.80" font-size="7" font-weight="bold" fill="#000" textLength="27.50" lengthAdjust="spacingAndGlyphs">Day 14</text>
<text x="6.70" y="232.90" font-size="7" font-weight="bold" fill="#000" textLength="28.00" lengthAdjust="spacingAndGlyphs">Day 14</text>
<text x="4.40" y="283.80" font-size="7" font-weight="bold" fill="#000" textLength="27.20" lengthAdjust="spacingAndGlyphs">Day 21</text>
<rect x="75.90" y="19.60" width="5.6" height="1.4" fill="#111"/>
<rect x="75.90" y="29.90" width="5.6" height="1.4" fill="#111"/>
<rect x="138.60" y="19.60" width="4.6" height="1.4" fill="#111"/>
<rect x="140.20" y="18.00" width="1.4" height="4.6" fill="#111"/>
<rect x="138.10" y="29.90" width="5.6" height="1.4" fill="#111"/>
<rect x="200.60" y="19.60" width="4.6" height="1.4" fill="#111"/>
<rect x="202.20" y="18.00" width="1.4" height="4.6" fill="#111"/>
<rect x="200.60" y="29.90" width="4.6" height="1.4" fill="#111"/>
<rect x="202.20" y="28.30" width="1.4" height="4.6" fill="#111"/>
<rect x="261.90" y="19.60" width="5.6" height="1.4" fill="#111"/>
<rect x="262.40" y="29.90" width="4.6" height="1.4" fill="#111"/>
<rect x="264.00" y="28.30" width="1.4" height="4.6" fill="#111"/>
<text x="297.60" y="22.80" font-size="7" font-weight="bold" fill="#000" textLength="20.60" lengthAdjust="spacingAndGlyphs">ODM</text>
<text x="297.60" y="33.10" font-size="7" font-weight="bold" fill="#000" textLength="41.00" lengthAdjust="spacingAndGlyphs">Hispidulin</text>
<rect x="75.70" y="185.35" width="5.8" height="1.3" fill="#111"/>
<rect x="75.70" y="195.05" width="5.8" height="1.3" fill="#111"/>
<rect x="139.30" y="185.35" width="4.4" height="1.3" fill="#111"/>
<rect x="140.85" y="183.80" width="1.3" height="4.4" fill="#111"/>
<rect x="138.60" y="195.05" width="5.8" height="1.3" fill="#111"/>
<rect x="200.20" y="185.35" width="4.4" height="1.3" fill="#111"/>
<rect x="201.75" y="183.80" width="1.3" height="4.4" fill="#111"/>
<rect x="200.20" y="195.05" width="4.4" height="1.3" fill="#111"/>
<rect x="201.75" y="193.50" width="1.3" height="4.4" fill="#111"/>
<rect x="262.10" y="185.35" width="5.8" height="1.3" fill="#111"/>
<rect x="262.80" y="195.05" width="4.4" height="1.3" fill="#111"/>
<rect x="264.35" y="193.50" width="1.3" height="4.4" fill="#111"/>
<text x="299.10" y="188.50" font-size="7" font-weight="bold" fill="#000" textLength="19.00" lengthAdjust="spacingAndGlyphs">ODM</text>
<text x="299.10" y="198.20" font-size="7" font-weight="bold" fill="#000" textLength="40.20" lengthAdjust="spacingAndGlyphs">Hispidulin</text>
<g clip-path="url(#cp1)"><g filter="url(#nzA)">
<rect x="44.4" y="41.1" width="63.25" height="49.80" fill="#d9d9e2"/>
<ellipse cx="79.4" cy="51.1" rx="18.0" ry="8.0" fill="#e6d2e2" opacity="0.7" filter="url(#bl5)" transform="rotate(-20 79.4 51.1)"/>
<ellipse cx="74.4" cy="79.1" rx="14.0" ry="5.0" fill="#ccd0e4" opacity="0.5" filter="url(#bl3)" transform="rotate(-20 74.4 79.1)"/>
<g fill="none" stroke="#e6a8cc" stroke-linecap="round" filter="url(#bl04)">
<path d="M70.3 71.2Q73.0 69.0 75.8 66.8M86.0 46.4Q88.3 43.2 90.5 39.9M55.2 72.8Q59.8 71.0 64.3 69.3M87.5 90.7Q91.2 87.9 94.9 85.1" stroke-width="0.6" opacity="0.2"/>
<path d="M74.3 73.9Q76.8 72.5 79.3 71.0" stroke-width="0.4" opacity="0.3"/>
<path d="M43.1 69.0Q45.3 67.4 47.6 65.9M58.7 80.5Q60.7 79.6 62.8 78.7" stroke-width="0.4" opacity="0.2"/>
<path d="M68.9 83.9Q72.3 83.1 75.7 82.2M90.4 48.0Q92.3 47.0 94.3 45.9M77.8 64.7Q79.8 63.4 81.7 62.0" stroke-width="0.7" opacity="0.2"/>
<path d="M59.3 93.9Q62.0 90.8 64.7 87.7M95.9 53.2Q99.2 50.2 102.5 47.3" stroke-width="0.5" opacity="0.2"/>
<path d="M58.7 46.8Q62.7 44.6 66.6 42.3" stroke-width="0.6" opacity="0.3"/>
<path d="M95.2 43.0Q98.0 41.1 100.8 39.2M55.9 62.1Q57.7 60.7 59.5 59.3" stroke-width="0.8" opacity="0.2"/>
<path d="M47.1 73.6Q49.0 72.4 51.0 71.3M67.0 53.6Q71.0 51.7 75.0 49.8M47.6 45.4Q51.0 43.0 54.3 40.6" stroke-width="0.5" opacity="0.3"/>
</g>
<g fill="none" stroke="#8fa0d0" stroke-linecap="round" filter="url(#bl04)">
<path d="M79.3 75.4Q80.3 75.0 81.3 74.5" stroke-width="0.5" opacity="0.3"/>
<path d="M88.0 81.7Q89.2 81.4 90.5 81.1M73.3 71.0Q75.0 70.3 76.7 69.6" stroke-width="0.4" opacity="0.3"/>
<path d="M88.7 89.0Q90.6 88.7 92.4 88.4" stroke-width="0.4" opacity="0.2"/>
<path d="M59.0 87.5Q60.0 87.3 61.0 87.1M88.2 78.2Q89.9 77.4 91.6 76.7" stroke-width="0.6" opacity="0.3"/>
<path d="M83.3 76.1Q85.0 75.5 86.7 74.8M83.8 83.8Q85.2 83.2 86.6 82.6" stroke-width="0.6" opacity="0.4"/>
<path d="M77.6 82.5Q79.8 81.3 81.9 80.0" stroke-width="0.7" opacity="0.4"/>
<path d="M70.8 84.1Q73.0 83.8 75.2 83.5" stroke-width="0.4" opacity="0.4"/>
</g>
</g></g>
<g clip-path="url(#cp2)"><g filter="url(#nzA)">
<rect x="107.65" y="41.1" width="62.85" height="49.80" fill="#e4e2ec"/>
<ellipse cx="129.7" cy="61.1" rx="26.0" ry="14.0" fill="#ecc8e0" opacity="0.3" filter="url(#bl8)" transform="rotate(-50 129.7 61.1)"/>
<g fill="none" stroke="#d2358c" stroke-linecap="round" filter="url(#bl04)">
<path d="M107.1 74.5Q109.5 71.0 111.9 67.6M117.4 63.5Q119.9 59.8 122.5 56.1M127.9 65.8Q130.5 60.8 133.0 55.8" stroke-width="0.6" opacity="0.5"/>
<path d="M122.1 43.9Q123.7 41.7 125.4 39.4M124.6 65.3Q127.2 60.1 129.9 54.9M142.2 52.7Q143.7 51.1 145.1 49.6M127.7 70.1Q129.1 68.4 130.6 66.6" stroke-width="0.8" opacity="0.4"/>
<path d="M147.5 56.6Q149.5 51.0 151.5 45.4M110.8 47.0Q112.3 42.7 113.9 38.4M105.4 89.1Q108.6 85.6 111.9 82.0M143.6 84.0Q146.9 79.4 150.1 74.8M128.7 49.9Q130.9 45.9 133.0 41.9M125.3 81.8Q126.4 79.7 127.6 77.7" stroke-width="0.5" opacity="0.4"/>
<path d="M125.6 52.7Q127.5 47.9 129.5 43.1M134.4 80.3Q138.5 75.5 142.6 70.7M120.8 81.1Q122.3 78.0 123.8 74.9M119.3 84.9Q120.5 82.9 121.6 81.0M168.8 92.2Q169.8 88.1 170.8 84.1" stroke-width="0.8" opacity="0.3"/>
<path d="M115.7 67.6Q118.3 63.5 120.8 59.5M135.9 51.3Q137.4 47.4 138.9 43.6M126.1 60.0Q126.8 56.9 127.5 53.9" stroke-width="0.5" opacity="0.3"/>
<path d="M107.9 50.8Q108.9 47.9 109.8 44.9M127.3 59.4Q130.6 55.3 134.0 51.3" stroke-width="0.4" opacity="0.2"/>
<path d="M143.3 68.3Q147.2 63.3 151.1 58.4M127.1 61.2Q127.9 58.8 128.7 56.4M162.1 92.5Q164.9 89.3 167.7 86.1" stroke-width="0.6" opacity="0.3"/>
<path d="M135.5 51.9Q137.5 50.0 139.5 48.1M117.2 70.8Q120.1 67.5 123.0 64.2M108.7 49.5Q112.1 46.4 115.5 43.3M155.9 50.5Q158.5 44.9 161.2 39.3M132.2 65.1Q134.1 62.0 136.1 58.9M117.2 45.5Q118.9 44.2 120.7 42.9M119.5 55.0Q121.3 52.8 123.1 50.7" stroke-width="0.4" opacity="0.3"/>
<path d="M152.8 66.4Q155.2 60.7 157.5 55.0M111.6 64.8Q112.9 63.1 114.1 61.3M119.7 48.3Q123.0 43.2 126.4 38.2" stroke-width="0.7" opacity="0.2"/>
<path d="M132.3 76.8Q136.2 72.3 140.0 67.7M157.2 46.4Q158.2 44.3 159.2 42.1M154.1 59.6Q155.3 56.6 156.4 53.7" stroke-width="0.7" opacity="0.5"/>
<path d="M134.1 77.6Q136.8 73.5 139.5 69.5" stroke-width="0.7" opacity="0.3"/>
<path d="M156.8 52.1Q157.9 49.7 159.0 47.3M151.4 47.8Q153.1 44.6 154.8 41.4M124.5 78.8Q128.9 74.0 133.2 69.1M117.5 69.6Q118.3 65.8 119.0 62.0M142.2 51.8Q143.0 49.9 143.8 48.0M133.4 58.0Q134.4 55.6 135.3 53.3" stroke-width="0.6" opacity="0.4"/>
<path d="M137.1 91.3Q138.6 88.4 140.1 85.4M133.4 77.7Q135.5 74.4 137.5 71.1M136.4 71.0Q138.7 67.9 140.9 64.7" stroke-width="0.7" opacity="0.4"/>
<path d="M145.1 89.7Q146.5 87.2 147.8 84.6M132.7 81.9Q134.1 80.4 135.6 78.9M159.5 52.7Q160.7 50.1 162.0 47.5M120.8 49.9Q122.6 46.8 124.5 43.7M136.5 53.6Q137.7 51.6 138.9 49.6M149.0 58.1Q151.3 55.2 153.5 52.3M111.1 75.2Q113.0 72.7 114.8 70.2" stroke-width="0.4" opacity="0.4"/>
<path d="M169.2 88.2Q170.4 85.3 171.6 82.4M152.9 61.1Q155.7 57.4 158.5 53.6M123.8 64.4Q124.7 62.3 125.6 60.1" stroke-width="0.3" opacity="0.4"/>
<path d="M153.6 92.4Q155.5 89.9 157.5 87.4" stroke-width="0.5" opacity="0.2"/>
<path d="M144.3 48.7Q145.6 46.8 146.9 45.0" stroke-width="0.6" opacity="0.2"/>
<path d="M154.6 56.5Q155.0 50.6 155.4 44.6" stroke-width="0.3" opacity="0.2"/>
</g>
<g fill="none" stroke="#e48abf" stroke-linecap="round" filter="url(#bl04)">
<path d="M128.7 71.9Q131.8 67.4 135.0 62.9M135.6 62.3Q137.4 59.6 139.1 56.9M129.8 74.8Q131.6 70.6 133.4 66.3" stroke-width="0.7" opacity="0.2"/>
<path d="M121.1 86.7Q124.0 84.4 126.8 82.1M131.6 91.2Q133.9 86.8 136.1 82.3M127.6 70.1Q130.4 64.2 133.1 58.2M123.3 88.0Q125.8 85.8 128.2 83.5" stroke-width="0.9" opacity="0.2"/>
<path d="M155.1 43.9Q156.1 41.2 157.0 38.5M111.9 71.1Q113.8 65.0 115.6 58.9M144.3 55.9Q147.1 51.0 149.8 46.0" stroke-width="0.8" opacity="0.3"/>
<path d="M158.2 60.9Q159.9 56.6 161.7 52.3M145.7 49.9Q150.8 46.4 156.0 42.9M126.0 87.2Q128.5 82.3 131.0 77.3M129.8 46.6Q133.6 41.9 137.4 37.2M141.4 53.2Q143.4 49.7 145.5 46.3" stroke-width="1.0" opacity="0.2"/>
<path d="M129.7 78.4Q131.4 76.5 133.0 74.5" stroke-width="1.2" opacity="0.3"/>
<path d="M118.2 74.8Q120.6 71.8 123.1 68.8M157.2 76.0Q159.5 71.5 161.8 67.1" stroke-width="0.8" opacity="0.2"/>
<path d="M146.1 59.7Q149.6 53.9 153.0 48.1M106.5 61.1Q108.8 57.6 111.1 54.1M131.7 67.3Q133.4 62.7 135.0 58.1" stroke-width="0.9" opacity="0.3"/>
<path d="M112.2 55.0Q113.3 52.4 114.4 49.8" stroke-width="1.2" opacity="0.2"/>
<path d="M112.0 81.0Q116.6 76.6 121.1 72.3M141.9 59.4Q142.9 54.3 143.8 49.2" stroke-width="0.7" opacity="0.3"/>
<path d="M108.6 53.8Q109.7 50.1 110.7 46.3M147.1 51.7Q149.8 48.3 152.6 44.9" stroke-width="1.0" opacity="0.3"/>
</g>
</g></g>
<g clip-path="url(#cp3)"><g filter="url(#nzA)">
<rect x="170.5" y="41.1" width="62.60" height="49.80" fill="#e6e1ed"/>
<ellipse cx="200.5" cy="53.1" rx="30.0" ry="14.0" fill="#f0bcdc" opacity="0.3" filter="url(#bl8)"/>
<g fill="none" stroke="#d2358c" stroke-linecap="round" filter="url(#bl04)">
<path d="M192.0 48.0Q190.6 43.8 189.2 39.7M191.1 80.9Q189.7 76.5 188.4 72.0M199.5 94.2Q200.8 90.8 202.0 87.3M182.5 45.7Q181.5 42.4 180.5 39.1M226.5 75.2Q229.4 71.5 232.3 67.7M225.0 44.2Q226.6 42.3 228.2 40.4M228.3 65.9Q230.8 61.7 233.4 57.5" stroke-width="0.7" opacity="0.3"/>
<path d="M206.2 47.9Q207.6 44.6 209.1 41.3M218.4 56.5Q220.0 52.8 221.7 49.2M195.9 64.2Q196.8 60.3 197.6 56.3" stroke-width="0.3" opacity="0.4"/>
<path d="M202.8 55.2Q203.4 53.0 204.0 50.8M228.6 50.2Q231.2 47.8 233.9 45.3M201.5 57.3Q201.2 53.1 200.9 49.0M192.8 70.1Q193.1 64.2 193.4 58.4" stroke-width="0.8" opacity="0.5"/>
<path d="M208.8 87.9Q212.2 84.3 215.5 80.6M203.3 76.8Q205.3 73.2 207.3 69.7M179.2 61.8Q178.3 59.9 177.5 58.0M192.1 65.8Q192.4 62.6 192.8 59.3M202.9 86.2Q204.1 84.2 205.2 82.2M180.1 85.3Q177.0 83.4 173.9 81.6" stroke-width="0.6" opacity="0.5"/>
<path d="M177.3 82.5Q176.7 80.6 176.0 78.7M203.7 57.0Q203.4 54.3 203.1 51.6M172.3 55.0Q171.7 50.2 171.1 45.3M180.4 78.5Q179.0 76.3 177.7 74.1M179.3 68.9Q179.0 66.4 178.7 63.8M205.1 62.4Q205.8 59.5 206.5 56.6M195.8 80.5Q195.7 76.2 195.6 71.9M215.2 53.7Q216.9 51.6 218.6 49.5M188.7 67.7Q188.1 63.1 187.5 58.4" stroke-width="0.4" opacity="0.3"/>
<path d="M191.4 47.6Q190.8 44.2 190.3 40.8" stroke-width="0.6" opacity="0.2"/>
<path d="M175.7 90.8Q172.4 85.8 169.2 80.9M229.3 47.6Q232.3 42.8 235.4 37.9M186.2 59.3Q184.9 53.7 183.6 48.1M198.5 63.4Q199.5 60.7 200.4 58.0M209.4 87.2Q213.0 84.1 216.6 80.9M214.0 64.2Q215.1 61.3 216.3 58.3M178.1 65.1Q176.1 62.4 174.2 59.7M194.3 48.5Q193.3 44.2 192.3 40.0" stroke-width="0.5" opacity="0.3"/>
<path d="M185.4 87.6Q182.7 82.8 180.0 78.0M185.8 65.9Q184.2 61.4 182.7 57.0M182.0 62.7Q181.9 60.5 181.8 58.2" stroke-width="0.8" opacity="0.3"/>
<path d="M209.1 55.4Q210.1 50.6 211.1 45.8M175.5 63.3Q174.3 61.5 173.1 59.8M204.5 52.5Q204.9 49.3 205.3 46.1M187.0 89.7Q183.3 84.9 179.7 80.2M187.1 65.8Q185.9 61.7 184.8 57.6" stroke-width="0.5" opacity="0.5"/>
<path d="M221.7 78.6Q224.9 76.6 228.2 74.6M184.5 91.3Q180.1 87.7 175.7 84.2M194.1 49.3Q194.6 45.2 195.1 41.2M181.8 63.7Q180.4 61.1 179.0 58.5M196.5 53.4Q196.9 48.6 197.4 43.8M194.6 57.0Q193.4 54.0 192.2 51.0M193.4 76.2Q193.3 72.9 193.3 69.6M198.0 91.3Q199.0 87.6 200.0 83.9" stroke-width="0.3" opacity="0.3"/>
<path d="M185.6 60.6Q184.8 56.1 184.1 51.6" stroke-width="0.3" opacity="0.5"/>
<path d="M198.6 70.5Q198.1 67.4 197.6 64.3M177.6 59.1Q176.0 55.3 174.3 51.5M182.0 52.4Q181.8 48.7 181.5 44.9M176.1 58.0Q173.8 53.7 171.6 49.4M214.5 66.6Q216.5 61.0 218.5 55.4M200.1 91.7Q202.2 88.0 204.3 84.2M210.0 92.2Q214.4 90.8 218.8 89.4M202.0 51.3Q202.3 47.3 202.5 43.3" stroke-width="0.4" opacity="0.5"/>
<path d="M212.4 69.5Q213.3 67.0 214.2 64.5M187.4 45.1Q186.4 42.3 185.4 39.4M183.6 62.0Q182.0 58.9 180.4 55.7M184.7 77.1Q182.8 74.4 181.0 71.7" stroke-width="0.6" opacity="0.3"/>
<path d="M203.8 82.6Q204.5 80.5 205.2 78.5M229.9 72.5Q231.9 71.5 233.9 70.5M185.9 46.4Q185.4 43.1 185.0 39.9M211.6 55.3Q213.1 52.8 214.6 50.2M192.2 61.8Q191.0 57.7 189.7 53.6M209.2 71.0Q209.9 66.2 210.5 61.5M190.0 66.7Q189.9 61.4 189.9 56.2M197.5 48.2Q196.6 45.0 195.6 41.8M200.4 88.8Q201.9 86.1 203.3 83.4" stroke-width="0.5" opacity="0.4"/>
<path d="M230.5 50.7Q232.2 48.3 233.9 45.9M182.7 68.9Q181.6 66.7 180.6 64.5M182.7 64.1Q180.0 59.3 177.3 54.6M202.5 46.9Q203.7 42.5 205.0 38.1" stroke-width="0.7" opacity="0.2"/>
<path d="M195.4 61.9Q195.1 55.9 194.8 50.0M190.8 45.6Q191.2 42.4 191.5 39.2M209.8 58.7Q209.5 54.9 209.2 51.1M202.3 45.7Q202.7 41.6 203.1 37.5M227.9 51.8Q228.8 48.7 229.7 45.5" stroke-width="0.7" opacity="0.5"/>
<path d="M173.4 48.2Q173.0 42.3 172.6 36.4M224.1 55.6Q228.0 51.9 232.0 48.1M191.5 45.1Q190.8 42.1 190.0 39.0M183.7 61.9Q183.6 59.5 183.5 57.2M207.3 82.7Q209.5 78.1 211.7 73.4" stroke-width="0.4" opacity="0.4"/>
<path d="M196.8 65.3Q196.2 61.8 195.7 58.3M177.3 79.8Q173.5 76.6 169.8 73.5" stroke-width="0.8" opacity="0.2"/>
<path d="M219.3 90.0Q222.5 89.3 225.7 88.7M196.3 87.2Q195.7 84.3 195.1 81.4M201.3 93.3Q202.5 90.6 203.7 87.8M182.1 89.8Q178.8 85.7 175.4 81.6M204.6 49.5Q204.7 46.1 204.7 42.6" stroke-width="0.7" opacity="0.4"/>
<path d="M189.1 64.1Q188.3 60.6 187.5 57.1" stroke-width="0.6" opacity="0.4"/>
<path d="M220.2 51.4Q220.6 48.4 220.9 45.4" stroke-width="0.5" opacity="0.2"/>
<path d="M207.2 79.4Q208.3 75.7 209.3 72.0" stroke-width="0.4" opacity="0.2"/>
</g>
<g fill="none" stroke="#e884bf" stroke-linecap="round" filter="url(#bl04)">
<path d="M199.3 65.1Q200.4 59.0 201.4 52.8" stroke-width="0.6" opacity="0.2"/>
<path d="M204.4 64.9Q204.8 61.0 205.1 57.1M202.9 49.0Q203.1 44.9 203.3 40.9" stroke-width="0.9" opacity="0.2"/>
<path d="M215.4 66.9Q217.4 65.4 219.5 63.9M178.3 85.8Q174.5 82.2 170.7 78.5M185.1 56.9Q184.2 51.0 183.3 45.2" stroke-width="1.0" opacity="0.3"/>
<path d="M193.4 76.0Q193.4 70.9 193.4 65.7M218.3 49.6Q219.2 46.3 220.2 43.1M187.2 57.3Q187.1 53.5 186.9 49.7M173.5 47.6Q170.5 44.5 167.6 41.3" stroke-width="0.8" opacity="0.2"/>
<path d="M202.1 82.3Q202.8 78.6 203.6 75.0M220.1 66.6Q224.3 61.1 228.6 55.7M210.6 48.9Q210.7 43.9 210.8 38.9M203.9 47.7Q206.8 41.4 209.6 35.1M225.8 53.5Q228.2 51.6 230.7 49.8M226.5 50.0Q226.9 46.2 227.4 42.3" stroke-width="1.2" opacity="0.2"/>
<path d="M216.5 66.4Q219.4 63.0 222.3 59.6M215.4 49.5Q216.5 44.7 217.6 39.8M186.8 80.0Q185.4 73.7 184.0 67.4" stroke-width="0.7" opacity="0.2"/>
<path d="M174.1 67.0Q172.5 62.6 170.8 58.2M204.9 65.1Q205.9 58.5 207.0 51.8M173.9 82.6Q171.4 79.5 169.0 76.3M188.0 88.7Q185.2 85.0 182.3 81.3" stroke-width="1.1" opacity="0.2"/>
<path d="M228.2 61.9Q231.9 57.4 235.5 52.9M218.8 88.7Q224.3 87.7 229.7 86.6" stroke-width="1.0" opacity="0.2"/>
<path d="M225.6 66.1Q227.4 63.8 229.3 61.5" stroke-width="0.8" opacity="0.3"/>
<path d="M205.5 63.8Q205.0 57.7 204.6 51.6M199.9 61.0Q200.9 54.7 201.8 48.3" stroke-width="0.7" opacity="0.3"/>
<path d="M226.1 78.5Q228.3 75.4 230.6 72.4M208.4 48.6Q212.2 44.5 216.0 40.4M227.5 48.0Q228.9 45.4 230.4 42.8" stroke-width="1.2" opacity="0.3"/>
<path d="M215.4 71.2Q216.4 67.7 217.5 64.2" stroke-width="0.6" opacity="0.3"/>
<path d="M192.9 86.1Q193.2 80.3 193.5 74.5M213.3 66.7Q214.6 61.9 216.0 57.1" stroke-width="1.3" opacity="0.2"/>
<path d="M180.5 62.8Q178.9 56.1 177.4 49.3" stroke-width="1.3" opacity="0.3"/>
<path d="M173.5 47.6Q172.0 42.7 170.5 37.8" stroke-width="1.1" opacity="0.3"/>
</g>
</g></g>
<g clip-path="url(#cp4)"><g filter="url(#nzA)">
<rect x="233.1" y="41.1" width="63.60" height="49.80" fill="#dfdee6"/>
<ellipse cx="263.1" cy="66.1" rx="22.0" ry="14.0" fill="#ecd8e8" opacity="0.5" filter="url(#bl8)" transform="rotate(-60 263.1 66.1)"/>
<g fill="none" stroke="#e070b0" stroke-linecap="round" filter="url(#bl04)">
<path d="M249.8 62.0Q252.3 57.5 254.8 53.0M243.1 92.7Q245.2 88.1 247.4 83.6" stroke-width="0.6" opacity="0.1"/>
<path d="M279.7 58.9Q281.7 53.3 283.6 47.6M230.9 70.7Q234.0 65.9 237.0 61.2M252.1 81.5Q252.8 79.0 253.5 76.4M247.1 75.6Q249.7 71.9 252.2 68.2M236.6 79.8Q237.2 74.3 237.8 68.9M273.2 82.6Q274.7 79.7 276.1 76.8M293.6 75.3Q293.6 71.9 293.7 68.6M264.8 91.5Q266.6 88.4 268.5 85.2" stroke-width="0.5" opacity="0.2"/>
<path d="M289.0 95.2Q291.0 90.4 293.1 85.7M250.7 84.8Q251.8 80.6 253.0 76.3M259.2 50.2Q261.3 45.3 263.3 40.4M263.2 62.6Q264.4 60.2 265.5 57.9M263.1 46.6Q264.1 42.9 265.2 39.1" stroke-width="0.7" opacity="0.2"/>
<path d="M281.4 64.5Q283.4 60.0 285.4 55.5M247.3 90.3Q247.9 87.7 248.6 85.1M249.0 49.6Q251.2 45.9 253.3 42.3" stroke-width="0.6" opacity="0.3"/>
<path d="M287.8 94.5Q288.9 88.9 290.1 83.3M242.5 51.5Q243.5 49.7 244.5 47.9M287.3 73.3Q289.3 70.0 291.3 66.7M249.4 53.4Q251.5 49.6 253.5 45.8M249.9 85.2Q251.6 83.0 253.2 80.7" stroke-width="0.5" opacity="0.3"/>
<path d="M292.4 56.2Q293.2 50.7 294.1 45.2M283.6 95.0Q284.2 89.8 284.8 84.7" stroke-width="0.7" opacity="0.3"/>
<path d="M260.1 65.1Q262.0 59.6 263.8 54.2M244.7 72.1Q245.8 70.0 246.8 68.0" stroke-width="0.4" opacity="0.2"/>
<path d="M254.0 45.7Q255.2 43.6 256.4 41.4M265.2 63.0Q265.8 60.0 266.4 57.0M287.5 71.1Q290.5 66.2 293.5 61.3M291.3 51.4Q294.1 47.2 296.9 42.9M290.8 91.7Q292.8 86.0 294.7 80.4" stroke-width="0.6" opacity="0.2"/>
<path d="M267.5 80.6Q269.2 79.1 270.9 77.5M263.8 75.4Q264.8 73.6 265.9 71.8" stroke-width="0.5" opacity="0.1"/>
<path d="M259.8 49.3Q262.5 45.6 265.2 41.9M263.7 63.5Q265.7 58.2 267.6 52.9M287.2 83.5Q288.3 79.4 289.4 75.3M272.9 80.8Q274.3 75.3 275.7 69.7" stroke-width="0.8" opacity="0.2"/>
<path d="M283.2 52.7Q284.1 49.9 284.9 47.0" stroke-width="0.8" opacity="0.1"/>
<path d="M276.9 81.3Q277.3 78.9 277.6 76.4" stroke-width="0.7" opacity="0.1"/>
</g>
</g></g>
<g clip-path="url(#cp5)"><g filter="url(#nzA2)">
<rect x="44.4" y="90.9" width="63.25" height="50.40" fill="#cbcdcc"/>
<ellipse cx="84.4" cy="125.9" rx="25.0" ry="12.0" fill="#d6d8dc" opacity="0.7" filter="url(#bl5)" transform="rotate(-30 84.4 125.9)"/>
<circle cx="92.9" cy="93.8" r="0.34" fill="#6a6a60" opacity="0.34"/>
<circle cx="61.6" cy="127.2" r="0.48" fill="#6a6a60" opacity="0.28"/>
<circle cx="92.9" cy="123.5" r="0.48" fill="#6a6a60" opacity="0.31"/>
<circle cx="71.8" cy="96.3" r="0.42" fill="#6a6a60" opacity="0.44"/>
<circle cx="100.6" cy="93.7" r="0.32" fill="#6a6a60" opacity="0.27"/>
<circle cx="88.3" cy="113.0" r="0.33" fill="#6a6a60" opacity="0.31"/>
<circle cx="80.7" cy="128.4" r="0.40" fill="#6a6a60" opacity="0.36"/>
<circle cx="87.5" cy="121.9" r="0.31" fill="#6a6a60" opacity="0.38"/>
<circle cx="52.5" cy="93.7" r="0.42" fill="#6a6a60" opacity="0.20"/>
<circle cx="49.0" cy="110.6" r="0.42" fill="#6a6a60" opacity="0.23"/>
<circle cx="104.7" cy="133.8" r="0.42" fill="#6a6a60" opacity="0.35"/>
<circle cx="64.4" cy="140.5" r="0.33" fill="#6a6a60" opacity="0.28"/>
<circle cx="58.4" cy="134.5" r="0.43" fill="#6a6a60" opacity="0.30"/>
<circle cx="69.6" cy="135.6" r="0.36" fill="#6a6a60" opacity="0.40"/>
<circle cx="89.2" cy="113.5" r="0.39" fill="#6a6a60" opacity="0.31"/>
<circle cx="73.1" cy="106.8" r="0.46" fill="#6a6a60" opacity="0.30"/>
<circle cx="63.6" cy="129.8" r="0.41" fill="#6a6a60" opacity="0.32"/>
<circle cx="100.0" cy="113.8" r="0.39" fill="#6a6a60" opacity="0.42"/>
<circle cx="106.2" cy="130.5" r="0.40" fill="#6a6a60" opacity="0.37"/>
<circle cx="91.3" cy="105.8" r="0.48" fill="#6a6a60" opacity="0.44"/>
<circle cx="85.9" cy="124.6" r="0.41" fill="#6a6a60" opacity="0.36"/>
<circle cx="58.7" cy="129.7" r="0.43" fill="#6a6a60" opacity="0.44"/>
<circle cx="66.0" cy="126.8" r="0.30" fill="#6a6a60" opacity="0.30"/>
<circle cx="92.9" cy="104.0" r="0.45" fill="#6a6a60" opacity="0.26"/>
<circle cx="69.6" cy="141.0" r="0.35" fill="#6a6a60" opacity="0.43"/>
<circle cx="48.2" cy="120.3" r="0.51" fill="#6a6a60" opacity="0.41"/>
<circle cx="69.1" cy="120.7" r="0.48" fill="#6a6a60" opacity="0.39"/>
<circle cx="91.6" cy="120.1" r="0.36" fill="#6a6a60" opacity="0.38"/>
<circle cx="79.9" cy="118.3" r="0.55" fill="#6a6a60" opacity="0.23"/>
<circle cx="93.8" cy="107.3" r="0.48" fill="#6a6a60" opacity="0.44"/>
<circle cx="61.8" cy="119.5" r="0.43" fill="#6a6a60" opacity="0.32"/>
<circle cx="55.0" cy="122.4" r="0.52" fill="#6a6a60" opacity="0.37"/>
<circle cx="62.7" cy="131.5" r="0.41" fill="#6a6a60" opacity="0.24"/>
<circle cx="82.7" cy="114.1" r="0.43" fill="#6a6a60" opacity="0.45"/>
<circle cx="80.4" cy="139.0" r="0.39" fill="#6a6a60" opacity="0.39"/>
<circle cx="49.2" cy="106.0" r="0.47" fill="#6a6a60" opacity="0.37"/>
<circle cx="96.8" cy="110.1" r="0.37" fill="#6a6a60" opacity="0.29"/>
<circle cx="78.4" cy="92.1" r="0.39" fill="#6a6a60" opacity="0.36"/>
<circle cx="53.8" cy="106.6" r="0.52" fill="#6a6a60" opacity="0.43"/>
<circle cx="60.2" cy="99.9" r="0.33" fill="#6a6a60" opacity="0.22"/>
<circle cx="94.6" cy="128.1" r="0.37" fill="#6a6a60" opacity="0.32"/>
<circle cx="88.4" cy="92.3" r="0.50" fill="#6a6a60" opacity="0.41"/>
<circle cx="57.8" cy="126.4" r="0.47" fill="#6a6a60" opacity="0.28"/>
<circle cx="100.0" cy="101.9" r="0.42" fill="#6a6a60" opacity="0.28"/>
<circle cx="72.3" cy="131.8" r="0.44" fill="#6a6a60" opacity="0.35"/>
<circle cx="106.8" cy="102.2" r="0.36" fill="#6a6a60" opacity="0.35"/>
<circle cx="53.9" cy="139.5" r="0.39" fill="#6a6a60" opacity="0.31"/>
<circle cx="71.7" cy="132.6" r="0.53" fill="#6a6a60" opacity="0.37"/>
<circle cx="55.2" cy="108.8" r="0.48" fill="#6a6a60" opacity="0.25"/>
<circle cx="100.2" cy="134.9" r="0.36" fill="#6a6a60" opacity="0.29"/>
<circle cx="58.9" cy="127.1" r="0.31" fill="#6a6a60" opacity="0.37"/>
<circle cx="48.4" cy="133.3" r="0.44" fill="#6a6a60" opacity="0.35"/>
<circle cx="50.4" cy="93.1" r="0.39" fill="#6a6a60" opacity="0.45"/>
<circle cx="82.4" cy="134.4" r="0.32" fill="#6a6a60" opacity="0.23"/>
<circle cx="45.7" cy="126.0" r="0.34" fill="#6a6a60" opacity="0.27"/>
<circle cx="86.6" cy="126.0" r="0.38" fill="#6a6a60" opacity="0.32"/>
<circle cx="62.7" cy="119.2" r="0.39" fill="#6a6a60" opacity="0.29"/>
<circle cx="60.1" cy="105.6" r="0.37" fill="#6a6a60" opacity="0.20"/>
<circle cx="64.0" cy="120.7" r="0.37" fill="#6a6a60" opacity="0.23"/>
<circle cx="97.9" cy="114.5" r="0.43" fill="#6a6a60" opacity="0.28"/>
<circle cx="100.5" cy="128.9" r="0.46" fill="#6a6a60" opacity="0.36"/>
<circle cx="88.2" cy="116.1" r="0.40" fill="#6a6a60" opacity="0.30"/>
<circle cx="76.3" cy="114.5" r="0.43" fill="#6a6a60" opacity="0.33"/>
<circle cx="94.3" cy="135.9" r="0.36" fill="#6a6a60" opacity="0.21"/>
<circle cx="63.4" cy="92.5" r="0.50" fill="#6a6a60" opacity="0.36"/>
<circle cx="62.5" cy="100.5" r="0.52" fill="#6a6a60" opacity="0.41"/>
<circle cx="87.6" cy="125.8" r="0.49" fill="#6a6a60" opacity="0.31"/>
<circle cx="69.5" cy="118.8" r="0.52" fill="#6a6a60" opacity="0.45"/>
<circle cx="102.4" cy="133.0" r="0.32" fill="#6a6a60" opacity="0.26"/>
<circle cx="105.8" cy="118.3" r="0.43" fill="#6a6a60" opacity="0.28"/>
<circle cx="98.9" cy="116.9" r="0.55" fill="#6a6a60" opacity="0.22"/>
<circle cx="107.2" cy="91.6" r="0.34" fill="#6a6a60" opacity="0.30"/>
<circle cx="84.8" cy="96.5" r="0.44" fill="#6a6a60" opacity="0.43"/>
<circle cx="71.9" cy="129.3" r="0.45" fill="#6a6a60" opacity="0.35"/>
<circle cx="55.4" cy="114.3" r="0.53" fill="#6a6a60" opacity="0.37"/>
<circle cx="58.1" cy="113.4" r="0.44" fill="#6a6a60" opacity="0.28"/>
<circle cx="80.9" cy="122.7" r="0.30" fill="#6a6a60" opacity="0.26"/>
<circle cx="85.9" cy="101.7" r="0.32" fill="#6a6a60" opacity="0.39"/>
<circle cx="65.5" cy="139.2" r="0.44" fill="#6a6a60" opacity="0.23"/>
<circle cx="84.7" cy="104.1" r="0.50" fill="#6a6a60" opacity="0.38"/>
<circle cx="92.4" cy="93.8" r="0.31" fill="#6a6a60" opacity="0.40"/>
<circle cx="53.3" cy="101.1" r="0.31" fill="#6a6a60" opacity="0.24"/>
<circle cx="74.4" cy="139.2" r="0.38" fill="#6a6a60" opacity="0.26"/>
<circle cx="96.8" cy="100.2" r="0.46" fill="#6a6a60" opacity="0.35"/>
<circle cx="103.6" cy="93.1" r="0.44" fill="#6a6a60" opacity="0.30"/>
<circle cx="96.5" cy="103.6" r="0.48" fill="#6a6a60" opacity="0.25"/>
<circle cx="75.7" cy="139.7" r="0.36" fill="#6a6a60" opacity="0.27"/>
<circle cx="102.4" cy="124.9" r="0.32" fill="#6a6a60" opacity="0.25"/>
<circle cx="59.4" cy="105.5" r="0.51" fill="#6a6a60" opacity="0.38"/>
<circle cx="106.4" cy="124.7" r="0.46" fill="#6a6a60" opacity="0.30"/>
<circle cx="89.8" cy="115.8" r="0.31" fill="#6a6a60" opacity="0.32"/>
<circle cx="68.7" cy="117.7" r="0.31" fill="#6a6a60" opacity="0.21"/>
<circle cx="106.6" cy="109.6" r="0.38" fill="#6a6a60" opacity="0.24"/>
<circle cx="81.9" cy="137.0" r="0.35" fill="#6a6a60" opacity="0.33"/>
<circle cx="76.0" cy="129.5" r="0.44" fill="#6a6a60" opacity="0.26"/>
<circle cx="56.4" cy="127.4" r="0.32" fill="#6a6a60" opacity="0.42"/>
<circle cx="46.5" cy="100.5" r="0.42" fill="#6a6a60" opacity="0.41"/>
<circle cx="83.6" cy="128.5" r="0.49" fill="#6a6a60" opacity="0.38"/>
<circle cx="47.7" cy="132.5" r="0.34" fill="#6a6a60" opacity="0.24"/>
<circle cx="46.8" cy="92.3" r="0.52" fill="#6a6a60" opacity="0.30"/>
</g></g>
<g clip-path="url(#cp6)"><g filter="url(#nzA2)">
<rect x="107.65" y="90.9" width="62.85" height="50.40" fill="#d0cdd7"/>
<ellipse cx="142.7" cy="112.9" rx="28.0" ry="18.0" fill="#dfc6da" opacity="0.35" filter="url(#bl8)"/>
<g fill="none" stroke="#c0489a" stroke-linecap="round" filter="url(#bl04)">
<path d="M112.2 96.9Q113.1 93.3 114.0 89.6M160.7 102.4Q161.0 100.9 161.3 99.4M136.9 106.9Q137.6 104.2 138.3 101.5M142.7 132.3Q143.5 130.7 144.3 129.0" stroke-width="0.3" opacity="0.2"/>
<path d="M114.4 102.9Q114.7 101.0 115.0 99.1M135.6 136.5Q135.8 134.1 136.0 131.7M115.9 99.4Q116.0 97.8 116.1 96.1M159.8 133.4Q160.9 131.2 162.0 129.0" stroke-width="0.6" opacity="0.3"/>
<path d="M115.6 121.8Q117.1 119.5 118.5 117.2M148.1 94.1Q148.0 92.2 147.9 90.3M149.1 116.5Q148.6 114.6 148.1 112.6" stroke-width="0.3" opacity="0.4"/>
<path d="M107.6 138.4Q108.2 135.6 108.8 132.9M132.4 103.1Q133.7 100.1 134.9 97.2M164.8 117.6Q165.5 115.3 166.2 113.0" stroke-width="0.8" opacity="0.2"/>
<path d="M130.8 130.2Q131.7 126.6 132.7 122.9M160.0 94.2Q158.1 91.0 156.3 87.7" stroke-width="0.3" opacity="0.3"/>
<path d="M158.5 128.1Q156.9 126.2 155.4 124.2M161.3 111.0Q159.4 108.3 157.6 105.5M142.6 135.9Q144.2 134.4 145.9 132.9M161.5 105.3Q162.0 103.4 162.5 101.6M115.9 144.5Q117.5 140.9 119.0 137.3M119.4 98.2Q118.7 96.2 118.1 94.2M121.9 133.4Q120.3 131.5 118.6 129.5" stroke-width="0.7" opacity="0.4"/>
<path d="M113.3 142.2Q114.7 140.3 116.2 138.4M113.4 128.8Q115.7 126.3 118.0 123.8" stroke-width="0.6" opacity="0.5"/>
<path d="M163.7 145.1Q163.6 141.2 163.5 137.3M142.9 100.6Q143.1 97.5 143.4 94.5M155.3 123.4Q156.0 120.7 156.7 118.0" stroke-width="0.4" opacity="0.3"/>
<path d="M171.2 124.7Q170.0 123.0 168.7 121.4M161.4 140.5Q161.5 138.0 161.6 135.5M146.9 127.2Q145.8 125.3 144.7 123.3M132.2 96.7Q132.8 94.9 133.3 93.1M136.6 132.8Q137.4 130.1 138.1 127.4" stroke-width="0.5" opacity="0.4"/>
<path d="M117.1 133.4Q117.2 130.4 117.3 127.3M110.1 141.4Q110.8 138.0 111.6 134.7M127.3 114.3Q128.8 112.1 130.3 109.9" stroke-width="0.4" opacity="0.2"/>
<path d="M136.0 136.1Q136.5 132.5 137.0 128.8" stroke-width="0.5" opacity="0.2"/>
<path d="M125.6 110.8Q126.2 109.4 126.8 108.0M164.5 97.0Q163.7 95.1 162.9 93.2M115.8 112.0Q115.7 108.7 115.6 105.4M126.8 112.4Q127.6 109.5 128.3 106.6" stroke-width="0.7" opacity="0.3"/>
<path d="M165.8 105.2Q165.3 101.4 164.7 97.6M139.4 125.2Q138.8 123.4 138.3 121.5" stroke-width="0.8" opacity="0.4"/>
<path d="M127.9 129.0Q127.8 127.4 127.6 125.8M128.1 104.0Q128.1 100.6 128.2 97.1M163.4 121.1Q162.2 119.8 161.1 118.6M130.6 116.1Q130.9 113.8 131.3 111.6" stroke-width="0.6" opacity="0.2"/>
<path d="M147.8 112.8Q148.4 109.8 149.0 106.7M127.3 132.3Q127.5 129.7 127.7 127.0" stroke-width="0.5" opacity="0.3"/>
<path d="M158.1 139.1Q157.8 137.3 157.6 135.6M167.7 109.4Q167.9 106.5 168.1 103.6M162.6 113.1Q160.2 110.0 157.7 107.0" stroke-width="0.4" opacity="0.4"/>
<path d="M125.6 113.8Q125.9 112.3 126.2 110.8" stroke-width="0.6" opacity="0.4"/>
<path d="M127.0 96.5Q127.7 92.7 128.5 88.8M110.0 112.0Q110.5 110.4 111.0 108.8" stroke-width="0.5" opacity="0.5"/>
<path d="M115.1 100.7Q114.4 97.8 113.6 95.0" stroke-width="0.3" opacity="0.5"/>
<path d="M118.1 99.6Q120.8 97.0 123.4 94.3" stroke-width="0.8" opacity="0.3"/>
<path d="M157.4 107.1Q157.5 104.1 157.7 101.1" stroke-width="0.8" opacity="0.5"/>
</g>
<circle cx="120.5" cy="136.2" r="0.52" fill="#5a5a62" opacity="0.33"/>
<circle cx="110.8" cy="105.3" r="0.37" fill="#5a5a62" opacity="0.30"/>
<circle cx="166.9" cy="120.9" r="0.50" fill="#5a5a62" opacity="0.22"/>
<circle cx="123.1" cy="127.8" r="0.39" fill="#5a5a62" opacity="0.26"/>
<circle cx="111.6" cy="93.5" r="0.40" fill="#5a5a62" opacity="0.34"/>
<circle cx="132.8" cy="119.4" r="0.37" fill="#5a5a62" opacity="0.20"/>
<circle cx="150.0" cy="107.8" r="0.42" fill="#5a5a62" opacity="0.29"/>
<circle cx="124.6" cy="93.5" r="0.37" fill="#5a5a62" opacity="0.27"/>
<circle cx="114.9" cy="92.4" r="0.42" fill="#5a5a62" opacity="0.20"/>
<circle cx="162.9" cy="109.1" r="0.41" fill="#5a5a62" opacity="0.33"/>
<circle cx="109.2" cy="96.0" r="0.50" fill="#5a5a62" opacity="0.34"/>
<circle cx="138.7" cy="108.2" r="0.49" fill="#5a5a62" opacity="0.33"/>
<circle cx="157.4" cy="133.0" r="0.52" fill="#5a5a62" opacity="0.38"/>
<circle cx="150.0" cy="114.2" r="0.43" fill="#5a5a62" opacity="0.34"/>
<circle cx="140.7" cy="132.2" r="0.51" fill="#5a5a62" opacity="0.21"/>
<circle cx="154.9" cy="122.0" r="0.45" fill="#5a5a62" opacity="0.43"/>
<circle cx="110.8" cy="114.8" r="0.39" fill="#5a5a62" opacity="0.44"/>
<circle cx="118.0" cy="119.3" r="0.34" fill="#5a5a62" opacity="0.39"/>
<circle cx="138.4" cy="128.0" r="0.38" fill="#5a5a62" opacity="0.42"/>
<circle cx="108.1" cy="102.2" r="0.48" fill="#5a5a62" opacity="0.42"/>
<circle cx="156.5" cy="104.8" r="0.32" fill="#5a5a62" opacity="0.38"/>
<circle cx="153.6" cy="94.0" r="0.53" fill="#5a5a62" opacity="0.33"/>
<circle cx="109.8" cy="115.1" r="0.38" fill="#5a5a62" opacity="0.23"/>
<circle cx="163.3" cy="138.0" r="0.33" fill="#5a5a62" opacity="0.31"/>
<circle cx="124.8" cy="124.8" r="0.33" fill="#5a5a62" opacity="0.28"/>
<circle cx="133.4" cy="114.7" r="0.41" fill="#5a5a62" opacity="0.35"/>
<circle cx="166.7" cy="137.8" r="0.53" fill="#5a5a62" opacity="0.41"/>
<circle cx="122.0" cy="103.2" r="0.41" fill="#5a5a62" opacity="0.36"/>
<circle cx="145.8" cy="108.5" r="0.55" fill="#5a5a62" opacity="0.28"/>
<circle cx="108.9" cy="95.5" r="0.35" fill="#5a5a62" opacity="0.38"/>
<circle cx="160.5" cy="93.0" r="0.36" fill="#5a5a62" opacity="0.26"/>
<circle cx="157.1" cy="136.1" r="0.37" fill="#5a5a62" opacity="0.23"/>
<circle cx="168.4" cy="139.9" r="0.48" fill="#5a5a62" opacity="0.32"/>
<circle cx="154.6" cy="129.6" r="0.43" fill="#5a5a62" opacity="0.27"/>
<circle cx="140.7" cy="124.3" r="0.38" fill="#5a5a62" opacity="0.36"/>
<circle cx="116.9" cy="139.8" r="0.35" fill="#5a5a62" opacity="0.26"/>
<circle cx="168.0" cy="138.8" r="0.53" fill="#5a5a62" opacity="0.41"/>
<circle cx="161.0" cy="132.3" r="0.44" fill="#5a5a62" opacity="0.22"/>
<circle cx="153.6" cy="133.0" r="0.51" fill="#5a5a62" opacity="0.21"/>
<circle cx="111.5" cy="127.7" r="0.42" fill="#5a5a62" opacity="0.42"/>
<circle cx="169.9" cy="113.4" r="0.47" fill="#5a5a62" opacity="0.37"/>
<circle cx="151.2" cy="109.4" r="0.46" fill="#5a5a62" opacity="0.22"/>
<circle cx="164.2" cy="127.4" r="0.50" fill="#5a5a62" opacity="0.32"/>
<circle cx="120.5" cy="113.6" r="0.47" fill="#5a5a62" opacity="0.34"/>
<circle cx="114.5" cy="91.1" r="0.40" fill="#5a5a62" opacity="0.26"/>
<circle cx="121.9" cy="102.1" r="0.40" fill="#5a5a62" opacity="0.37"/>
<circle cx="165.0" cy="125.0" r="0.31" fill="#5a5a62" opacity="0.42"/>
<circle cx="145.9" cy="127.8" r="0.45" fill="#5a5a62" opacity="0.29"/>
<circle cx="129.0" cy="94.5" r="0.47" fill="#5a5a62" opacity="0.21"/>
<circle cx="150.5" cy="136.8" r="0.47" fill="#5a5a62" opacity="0.35"/>
<circle cx="158.4" cy="139.3" r="0.50" fill="#5a5a62" opacity="0.45"/>
<circle cx="136.5" cy="91.6" r="0.45" fill="#5a5a62" opacity="0.36"/>
<circle cx="161.9" cy="121.8" r="0.39" fill="#5a5a62" opacity="0.20"/>
<circle cx="159.9" cy="122.4" r="0.55" fill="#5a5a62" opacity="0.35"/>
<circle cx="161.2" cy="129.8" r="0.55" fill="#5a5a62" opacity="0.32"/>
<circle cx="164.0" cy="110.9" r="0.30" fill="#5a5a62" opacity="0.28"/>
<circle cx="129.7" cy="140.9" r="0.40" fill="#5a5a62" opacity="0.27"/>
<circle cx="151.1" cy="95.8" r="0.38" fill="#5a5a62" opacity="0.30"/>
<circle cx="115.5" cy="121.0" r="0.41" fill="#5a5a62" opacity="0.40"/>
<circle cx="129.0" cy="140.2" r="0.35" fill="#5a5a62" opacity="0.33"/>
</g></g>
<g clip-path="url(#cp7)"><g filter="url(#nzA)">
<rect x="170.5" y="90.9" width="62.60" height="50.40" fill="#e3d7e5"/>
<ellipse cx="206.5" cy="110.9" rx="30.0" ry="18.0" fill="#e6a8d2" opacity="0.32" filter="url(#bl8)"/>
<ellipse cx="177.5" cy="132.9" rx="9.0" ry="9.0" fill="#f0eef4" opacity="0.9" filter="url(#bl3)"/>
<g fill="none" stroke="#c93a92" stroke-linecap="round" filter="url(#bl04)">
<path d="M182.3 93.8Q184.5 91.4 187.0 89.4M178.4 124.0Q180.2 119.4 182.3 115.0M170.6 93.6Q171.4 92.3 172.4 91.1M174.9 103.9Q176.0 102.5 176.8 100.9M210.5 100.6Q215.5 100.1 220.5 99.9M195.3 119.9Q199.9 118.4 204.7 117.6M232.0 116.5Q233.3 118.2 234.2 120.1M207.6 102.3Q212.1 103.9 216.8 104.8M186.4 103.7Q189.6 102.2 192.7 100.6M191.5 105.4Q193.0 104.4 194.4 103.3" stroke-width="0.6" opacity="0.3"/>
<path d="M199.8 94.7Q204.1 95.3 208.1 93.7M176.4 122.1Q176.5 120.2 175.9 118.3M212.4 93.2Q214.3 92.7 216.2 92.5M220.7 97.6Q222.2 98.0 223.8 98.0M176.1 98.0Q178.7 95.3 179.9 91.8M195.0 113.4Q198.1 112.8 200.8 110.9M177.6 93.4Q178.4 92.1 179.4 90.9M224.4 116.2Q228.1 118.8 230.3 122.7M212.5 117.8Q216.4 119.1 220.5 119.7M204.5 104.3Q208.6 104.7 212.6 103.5" stroke-width="0.7" opacity="0.4"/>
<path d="M221.9 124.8Q224.1 128.8 227.6 131.7M219.3 124.3Q221.6 128.6 226.0 130.8M215.6 102.8Q218.4 103.2 220.5 105.0M217.6 104.3Q220.1 104.9 222.5 105.7M206.4 131.3Q205.4 134.9 205.8 138.5M183.6 97.9Q186.3 96.8 189.1 95.8M209.5 104.6Q211.6 105.9 214.0 106.0M225.1 131.8Q226.5 135.2 228.2 138.5" stroke-width="0.8" opacity="0.4"/>
<path d="M230.2 108.8Q232.1 110.1 233.6 111.8M173.1 115.3Q174.6 113.4 174.9 111.0M208.7 119.7Q210.7 121.2 212.8 122.6M229.8 119.7Q231.8 121.8 233.2 124.2M172.9 94.7Q175.3 91.1 179.0 88.9M221.5 130.2Q222.1 132.9 222.7 135.7M209.4 95.5Q213.2 95.8 216.9 96.9M215.4 99.1Q217.2 99.5 218.7 100.4" stroke-width="0.5" opacity="0.4"/>
<path d="M190.2 129.1Q190.4 124.4 190.8 119.7M174.3 95.3Q176.8 92.3 179.6 89.4M185.6 124.6Q186.6 121.3 189.4 119.3M174.6 95.9Q177.8 93.1 180.5 89.9M226.4 135.6Q226.3 138.7 225.6 141.7M206.1 112.8Q210.3 114.6 214.8 115.4M205.3 112.4Q209.7 112.2 213.6 114.2M221.4 135.6Q222.1 138.5 221.7 141.4M197.9 117.6Q200.5 116.4 203.4 115.8M173.9 133.7Q174.4 129.4 172.8 125.4M214.4 92.9Q217.7 94.7 221.0 96.4M228.6 111.4Q229.6 114.1 232.1 115.6M209.9 93.7Q213.1 93.5 216.1 92.4M227.7 120.0Q228.7 121.9 229.7 123.8" stroke-width="0.4" opacity="0.4"/>
<path d="M171.9 133.8Q170.0 131.1 169.3 127.9M196.1 94.0Q198.1 93.5 200.1 93.3M222.2 118.6Q224.2 120.5 225.8 122.8" stroke-width="0.5" opacity="0.2"/>
<path d="M190.4 132.1Q191.3 129.9 191.8 127.4M199.9 140.6Q197.4 139.4 194.6 139.0" stroke-width="0.4" opacity="0.5"/>
<path d="M191.7 134.6Q192.4 129.8 193.1 124.9M228.2 104.4Q232.6 104.3 236.3 106.6M194.6 114.3Q198.1 111.5 202.5 110.8M192.5 130.8Q192.5 126.8 192.8 122.8M171.7 100.5Q172.6 98.9 173.7 97.6M226.3 107.1Q227.9 108.0 229.5 108.8" stroke-width="0.7" opacity="0.5"/>
<path d="M203.9 95.3Q207.5 94.3 210.8 92.8M207.4 139.2Q202.9 141.2 198.3 143.1M175.5 99.4Q177.3 97.6 178.4 95.3M200.8 93.6Q202.6 92.5 204.8 92.1M229.6 111.3Q232.2 113.8 233.7 117.1" stroke-width="0.8" opacity="0.3"/>
<path d="M183.4 104.5Q185.2 102.1 186.8 99.6M222.1 124.5Q223.3 126.2 224.4 128.0" stroke-width="0.5" opacity="0.5"/>
<path d="M173.2 111.1Q173.8 109.5 174.2 107.9M172.1 117.4Q175.0 114.5 177.1 110.9M189.2 104.5Q191.5 103.9 193.7 102.9M175.1 94.2Q176.9 92.6 178.8 91.1M188.8 132.0Q189.1 130.5 189.4 128.9" stroke-width="0.7" opacity="0.3"/>
<path d="M173.1 111.7Q175.9 109.1 178.2 106.0M231.4 106.1Q232.7 107.8 234.2 109.3M192.1 111.3Q194.7 110.2 197.2 108.6M185.9 122.6Q187.0 118.7 189.0 115.4M200.3 114.5Q202.4 114.3 204.4 113.6M177.3 101.0Q181.3 98.3 185.1 95.2" stroke-width="0.3" opacity="0.4"/>
<path d="M169.6 122.6Q169.4 118.4 171.8 115.1M217.1 113.8Q221.5 114.5 225.1 117.2M202.8 103.4Q207.5 103.7 212.2 104.5M206.3 117.9Q208.5 118.6 210.6 119.6M205.2 132.1Q205.1 134.7 204.4 137.1M191.3 141.7Q188.9 138.9 187.0 135.6M201.6 129.4Q203.4 129.3 205.1 128.8M214.8 127.2Q216.1 129.0 216.8 131.2" stroke-width="0.4" opacity="0.3"/>
<path d="M198.1 106.6Q200.8 105.4 203.2 103.6M196.7 141.8Q194.4 141.2 193.1 139.2" stroke-width="0.3" opacity="0.2"/>
<path d="M197.0 97.9Q200.4 96.9 203.7 95.4M211.3 100.9Q215.4 102.8 219.9 103.5M206.6 122.1Q208.4 122.6 210.0 123.6M182.5 102.7Q185.4 100.0 188.7 98.0M219.0 119.9Q220.5 121.4 222.2 122.7M211.4 118.2Q213.6 119.0 216.0 119.2M195.7 114.2Q198.8 114.2 201.4 112.6M187.4 127.8Q188.8 124.6 189.8 121.2M213.4 135.2Q211.8 138.1 211.5 141.4M172.3 93.4Q173.5 92.2 175.0 91.2M224.7 114.8Q228.3 117.1 231.0 120.5" stroke-width="0.6" opacity="0.4"/>
<path d="M177.6 107.1Q180.2 104.5 183.4 102.5M181.0 117.3Q181.5 115.9 182.1 114.4M214.9 125.9Q216.1 129.9 218.0 133.6M173.1 106.8Q174.9 105.4 175.8 103.3" stroke-width="0.3" opacity="0.3"/>
<path d="M184.7 113.2Q186.6 108.5 190.5 105.2M207.3 119.2Q209.3 120.5 211.6 121.3M222.6 110.6Q225.2 112.8 227.4 115.4M195.2 124.6Q199.1 122.5 203.5 121.4" stroke-width="0.6" opacity="0.5"/>
<path d="M212.6 95.2Q217.0 95.6 221.4 95.9M174.5 95.2Q176.4 93.6 178.1 91.7" stroke-width="0.4" opacity="0.2"/>
<path d="M227.1 113.1Q228.3 115.3 229.6 117.4M222.4 116.5Q223.9 118.7 225.6 120.9M226.4 110.5Q228.7 111.9 231.1 113.0M214.2 125.5Q217.0 128.5 220.4 130.9M193.9 133.1Q194.3 129.9 194.7 126.8" stroke-width="0.6" opacity="0.2"/>
<path d="M227.1 122.9Q228.3 125.5 229.3 128.2M182.2 117.5Q183.5 115.6 184.8 113.6" stroke-width="0.7" opacity="0.2"/>
<path d="M196.1 126.7Q197.2 125.1 198.8 124.0M204.0 111.8Q208.4 113.5 213.1 113.2M175.7 98.8Q178.5 96.6 180.3 93.4" stroke-width="0.5" opacity="0.3"/>
<path d="M191.3 91.5Q193.3 91.5 195.3 91.4M220.6 95.6Q222.3 96.2 223.9 96.9M201.5 106.0Q203.1 105.5 204.7 105.1" stroke-width="0.8" opacity="0.5"/>
<path d="M176.1 94.7Q177.1 92.6 178.8 91.0M190.2 109.0Q192.2 107.4 193.4 105.1" stroke-width="0.3" opacity="0.5"/>
</g>
<g fill="none" stroke="#6a2a6a" stroke-linecap="round" filter="url(#bl04)">
<path d="M207.0 134.1Q208.1 137.2 209.2 140.4M196.9 120.2Q199.2 119.2 201.5 118.2M225.0 138.9Q225.4 140.4 225.8 141.8M210.0 130.8Q211.9 131.2 213.7 131.6" stroke-width="0.7" opacity="0.4"/>
<path d="M204.8 126.8Q207.0 125.9 209.2 125.0" stroke-width="0.6" opacity="0.4"/>
<path d="M208.2 121.1Q209.8 121.0 211.4 120.9" stroke-width="0.7" opacity="0.6"/>
<path d="M209.0 121.9Q210.6 122.1 212.1 122.3" stroke-width="0.8" opacity="0.6"/>
<path d="M220.6 135.4Q221.0 138.1 221.4 140.8M206.5 130.7Q208.9 130.2 211.2 129.7" stroke-width="0.8" opacity="0.5"/>
<path d="M188.0 122.1Q189.8 120.4 191.7 118.7" stroke-width="0.6" opacity="0.6"/>
<path d="M224.0 127.7Q226.0 130.1 227.9 132.4" stroke-width="0.6" opacity="0.5"/>
<path d="M191.0 124.1Q192.5 122.8 194.0 121.4" stroke-width="0.7" opacity="0.5"/>
<path d="M208.8 136.5Q208.0 139.3 207.1 142.0" stroke-width="0.9" opacity="0.5"/>
<path d="M213.3 131.9Q215.2 133.1 217.1 134.4" stroke-width="0.8" opacity="0.4"/>
</g>
</g></g>
<g clip-path="url(#cp8)"><g filter="url(#nzA)">
<rect x="233.1" y="90.9" width="63.60" height="50.40" fill="#d9d9db"/>
<g fill="none" stroke="#cc70a8" stroke-linecap="round" filter="url(#bl04)">
<path d="M282.4 139.1Q284.3 141.2 286.2 143.3M288.0 127.6Q290.7 130.8 293.4 134.0M241.4 93.1Q242.6 95.3 243.7 97.4M253.5 113.9Q254.9 115.7 256.4 117.5" stroke-width="0.6" opacity="0.4"/>
<path d="M244.5 112.7Q247.5 115.4 250.5 118.1" stroke-width="0.7" opacity="0.4"/>
<path d="M236.4 135.6Q238.9 139.6 241.3 143.5" stroke-width="0.5" opacity="0.2"/>
<path d="M277.3 102.8Q279.2 105.0 281.1 107.2M241.4 96.6Q242.6 100.4 243.8 104.2" stroke-width="0.6" opacity="0.2"/>
<path d="M253.1 113.8Q256.1 117.8 259.1 121.9" stroke-width="0.6" opacity="0.3"/>
</g>
<circle cx="245.8" cy="120.4" r="0.43" fill="#5a5a58" opacity="0.23"/>
<circle cx="238.9" cy="106.7" r="0.35" fill="#5a5a58" opacity="0.30"/>
<circle cx="243.9" cy="94.6" r="0.41" fill="#5a5a58" opacity="0.49"/>
<circle cx="273.4" cy="137.2" r="0.28" fill="#5a5a58" opacity="0.38"/>
<circle cx="256.3" cy="133.6" r="0.40" fill="#5a5a58" opacity="0.38"/>
<circle cx="291.3" cy="139.1" r="0.28" fill="#5a5a58" opacity="0.33"/>
<circle cx="238.5" cy="119.1" r="0.31" fill="#5a5a58" opacity="0.41"/>
<circle cx="255.7" cy="91.3" r="0.47" fill="#5a5a58" opacity="0.24"/>
<circle cx="250.2" cy="117.1" r="0.26" fill="#5a5a58" opacity="0.43"/>
<circle cx="278.7" cy="96.8" r="0.41" fill="#5a5a58" opacity="0.24"/>
<circle cx="266.8" cy="95.6" r="0.32" fill="#5a5a58" opacity="0.34"/>
<circle cx="267.7" cy="123.9" r="0.48" fill="#5a5a58" opacity="0.30"/>
<circle cx="255.4" cy="101.4" r="0.43" fill="#5a5a58" opacity="0.31"/>
<circle cx="246.6" cy="100.6" r="0.36" fill="#5a5a58" opacity="0.45"/>
<circle cx="261.0" cy="131.9" r="0.37" fill="#5a5a58" opacity="0.37"/>
<circle cx="249.3" cy="111.5" r="0.43" fill="#5a5a58" opacity="0.23"/>
<circle cx="262.0" cy="103.6" r="0.32" fill="#5a5a58" opacity="0.30"/>
<circle cx="245.7" cy="120.0" r="0.26" fill="#5a5a58" opacity="0.27"/>
<circle cx="249.9" cy="100.0" r="0.46" fill="#5a5a58" opacity="0.41"/>
<circle cx="289.6" cy="97.6" r="0.30" fill="#5a5a58" opacity="0.29"/>
<circle cx="265.4" cy="132.9" r="0.46" fill="#5a5a58" opacity="0.46"/>
<circle cx="234.2" cy="92.3" r="0.33" fill="#5a5a58" opacity="0.33"/>
<circle cx="233.5" cy="108.6" r="0.28" fill="#5a5a58" opacity="0.46"/>
<circle cx="246.5" cy="107.0" r="0.29" fill="#5a5a58" opacity="0.45"/>
<circle cx="240.3" cy="113.1" r="0.31" fill="#5a5a58" opacity="0.27"/>
<circle cx="296.4" cy="126.9" r="0.43" fill="#5a5a58" opacity="0.31"/>
<circle cx="295.3" cy="139.5" r="0.41" fill="#5a5a58" opacity="0.27"/>
<circle cx="236.2" cy="118.3" r="0.37" fill="#5a5a58" opacity="0.46"/>
<circle cx="296.6" cy="132.1" r="0.31" fill="#5a5a58" opacity="0.50"/>
<circle cx="272.1" cy="92.8" r="0.30" fill="#5a5a58" opacity="0.49"/>
<circle cx="283.7" cy="128.2" r="0.42" fill="#5a5a58" opacity="0.21"/>
<circle cx="292.7" cy="105.9" r="0.44" fill="#5a5a58" opacity="0.36"/>
<circle cx="264.2" cy="117.4" r="0.48" fill="#5a5a58" opacity="0.45"/>
<circle cx="258.2" cy="133.9" r="0.29" fill="#5a5a58" opacity="0.30"/>
<circle cx="253.5" cy="93.3" r="0.35" fill="#5a5a58" opacity="0.20"/>
<circle cx="294.7" cy="132.1" r="0.37" fill="#5a5a58" opacity="0.22"/>
<circle cx="249.8" cy="129.8" r="0.32" fill="#5a5a58" opacity="0.23"/>
<circle cx="260.3" cy="120.0" r="0.28" fill="#5a5a58" opacity="0.31"/>
<circle cx="268.5" cy="128.4" r="0.35" fill="#5a5a58" opacity="0.50"/>
<circle cx="249.4" cy="128.7" r="0.27" fill="#5a5a58" opacity="0.47"/>
</g></g>
<g fill="none">
<path d="M44.4 90.9H296.6" stroke-width="2.5" stroke="#585858"/>
<path d="M107.65 41.2V141.2" stroke-width="2.1" stroke="#0a0a0a"/>
<path d="M170.5 41.2V141.2" stroke-width="2.1" stroke="#0a0a0a"/>
<path d="M233.1 41.2V141.2" stroke-width="2.1" stroke="#0a0a0a"/>
<path d="M44.4 41.7H296.7" stroke-width="1.3" stroke="#3a3a3a"/>
<path d="M45.25 41.1V141.3M295.8 41.1V141.3" stroke-width="1.7" stroke="#505050"/>
<path d="M44.4 140.4H296.7" stroke-width="1.8" stroke="#484848"/>
</g>
<g clip-path="url(#cp9)"><g filter="url(#nzB)">
<rect x="41.0" y="205.4" width="63.20" height="50.30" fill="#cdd4e8"/>
<ellipse cx="63.0" cy="227.4" rx="16.0" ry="10.0" fill="#e4d2d8" opacity="0.6" filter="url(#bl5)" transform="rotate(-30 63.0 227.4)"/>
<ellipse cx="89.0" cy="245.4" rx="12.0" ry="8.0" fill="#dcd0dc" opacity="0.5" filter="url(#bl5)"/>
<ellipse cx="86.0" cy="215.4" rx="14.0" ry="8.0" fill="#c2cde8" opacity="0.6" filter="url(#bl5)"/>
</g></g>
<rect x="41.65" y="206.05" width="61.90" height="49.00" rx="0.8" fill="none" stroke="#505050" stroke-width="1.3"/>
<g clip-path="url(#cp10)"><g filter="url(#nzB)">
<rect x="105.4" y="205.4" width="62.80" height="50.30" fill="#e4d2d6"/>
<ellipse cx="143.4" cy="227.4" rx="14.0" ry="22.0" fill="#eec4c0" opacity="0.7" filter="url(#bl5)" transform="rotate(20 143.4 227.4)"/>
<ellipse cx="113.4" cy="235.4" rx="12.0" ry="18.0" fill="#ccd0e6" opacity="0.8" filter="url(#bl5)"/>
<ellipse cx="160.4" cy="245.4" rx="10.0" ry="10.0" fill="#d6d0e2" opacity="0.6" filter="url(#bl5)"/>
<circle cx="139.6" cy="214.1" r="0.84" fill="#5a2a10" opacity="0.88"/>
<circle cx="113.6" cy="249.8" r="0.89" fill="#5a2a10" opacity="0.77"/>
<circle cx="155.0" cy="241.6" r="0.77" fill="#5a2a10" opacity="0.78"/>
</g></g>
<rect x="106.05" y="206.05" width="61.50" height="49.00" rx="0.8" fill="none" stroke="#505050" stroke-width="1.3"/>
<g clip-path="url(#cp11)"><g filter="url(#nzB)">
<rect x="169.2" y="205.4" width="63.00" height="50.30" fill="#ead2c6"/>
<ellipse cx="181.2" cy="212.4" rx="18.0" ry="9.0" fill="#c49a94" opacity="0.7" filter="url(#bl5)"/>
<ellipse cx="209.2" cy="225.4" rx="12.0" ry="18.0" fill="#f0c49c" opacity="0.7" filter="url(#bl5)" transform="rotate(30 209.2 225.4)"/>
<ellipse cx="223.2" cy="245.4" rx="14.0" ry="12.0" fill="#d8d0e2" opacity="0.8" filter="url(#bl5)"/>
<ellipse cx="226.2" cy="215.4" rx="8.0" ry="10.0" fill="#dcd2e0" opacity="0.6" filter="url(#bl5)"/>
<ellipse cx="177.2" cy="247.4" rx="12.0" ry="8.0" fill="#e2d0d8" opacity="0.7" filter="url(#bl5)"/>
<g fill="none" stroke="#d8965c" stroke-linecap="round" filter="url(#bl04)">
<path d="M188.5 248.6Q188.9 246.4 189.4 244.2M232.8 228.0Q231.2 224.3 229.7 220.5M226.2 209.3Q225.2 206.4 224.2 203.4" stroke-width="0.7" opacity="0.3"/>
<path d="M182.2 210.9Q182.9 206.5 183.6 202.0M209.4 243.8Q209.3 239.8 209.2 235.9M218.9 221.1Q218.0 215.8 217.1 210.5" stroke-width="0.6" opacity="0.3"/>
<path d="M221.3 213.6Q220.4 210.1 219.5 206.6M218.0 248.9Q217.2 245.0 216.5 241.0M169.2 231.2Q170.8 227.9 172.4 224.6M231.0 244.2Q230.0 240.6 228.9 237.0" stroke-width="0.9" opacity="0.3"/>
<path d="M225.9 218.8Q224.9 215.2 223.9 211.6M229.2 252.9Q227.5 247.9 225.8 242.9M228.3 215.6Q226.5 211.1 224.8 206.7M222.2 209.5Q220.6 206.6 219.1 203.6" stroke-width="0.8" opacity="0.4"/>
<path d="M229.5 251.8Q226.6 248.3 223.6 244.8M200.2 213.5Q200.0 210.7 199.9 207.8M189.4 255.5Q190.4 253.1 191.4 250.7M185.3 218.0Q186.3 215.9 187.3 213.7M182.0 246.3Q184.3 242.7 186.6 239.1" stroke-width="0.4" opacity="0.3"/>
<path d="M207.1 235.4Q207.8 230.3 208.4 225.2M231.6 255.8Q230.6 252.8 229.5 249.8M181.1 241.6Q183.7 237.2 186.4 232.7M220.6 224.3Q219.5 220.1 218.4 216.0" stroke-width="0.4" opacity="0.2"/>
<path d="M219.8 224.2Q219.2 221.3 218.7 218.3M175.6 235.1Q176.6 230.9 177.5 226.7" stroke-width="0.8" opacity="0.2"/>
<path d="M203.7 244.5Q204.2 241.3 204.7 238.1M208.6 227.8Q208.5 225.0 208.3 222.2" stroke-width="0.7" opacity="0.2"/>
<path d="M188.3 235.5Q189.2 233.6 190.1 231.7M176.6 217.8Q177.8 215.5 179.0 213.3M225.5 235.7Q224.2 232.1 222.8 228.5M181.3 251.5Q182.8 247.3 184.2 243.1M194.5 231.6Q195.9 228.5 197.3 225.4" stroke-width="0.7" opacity="0.4"/>
<path d="M225.1 249.2Q224.8 244.2 224.4 239.2M173.7 228.5Q175.5 224.0 177.3 219.5M201.1 208.7Q201.4 206.3 201.6 203.9M171.6 248.9Q173.3 247.6 175.0 246.3M192.0 231.1Q194.4 228.1 196.8 225.1" stroke-width="0.5" opacity="0.2"/>
<path d="M199.0 221.7Q199.1 216.4 199.2 211.1" stroke-width="0.9" opacity="0.4"/>
<path d="M181.3 245.6Q183.3 240.7 185.3 235.8M213.4 220.3Q212.1 215.1 210.8 209.9" stroke-width="0.6" opacity="0.4"/>
<path d="M167.2 224.8Q170.0 221.5 172.7 218.2" stroke-width="0.8" opacity="0.3"/>
<path d="M224.4 217.3Q221.6 213.3 218.8 209.3M218.5 217.5Q216.9 213.7 215.3 209.8" stroke-width="0.5" opacity="0.4"/>
<path d="M196.8 229.2Q197.2 226.1 197.5 223.0" stroke-width="0.9" opacity="0.2"/>
<path d="M231.4 246.8Q230.0 244.8 228.6 242.8" stroke-width="0.6" opacity="0.2"/>
</g>
<g fill="none" stroke="#6a3414" stroke-linecap="round" filter="url(#bl04)">
<path d="M179.4 236.1Q180.6 235.5 181.9 234.9" stroke-width="1.0" opacity="0.7"/>
<path d="M174.4 236.2Q175.6 235.4 176.8 234.5" stroke-width="1.0" opacity="0.8"/>
</g>
</g></g>
<rect x="169.85" y="206.05" width="61.70" height="49.00" rx="0.8" fill="none" stroke="#505050" stroke-width="1.3"/>
<g clip-path="url(#cp12)"><g filter="url(#nzB)">
<rect x="233.4" y="205.4" width="61.70" height="50.30" fill="#c2cde5"/>
<ellipse cx="273.4" cy="230.4" rx="20.0" ry="14.0" fill="#cdd4ea" opacity="0.6" filter="url(#bl5)"/>
<ellipse cx="243.4" cy="240.4" rx="10.0" ry="12.0" fill="#b8c6e2" opacity="0.5" filter="url(#bl5)"/>
</g></g>
<rect x="234.05" y="206.05" width="60.40" height="49.00" rx="0.8" fill="none" stroke="#505050" stroke-width="1.3"/>
<g clip-path="url(#cp13)"><g filter="url(#nzB)">
<rect x="41.0" y="256.9" width="63.20" height="49.30" fill="#dcd0d8"/>
<ellipse cx="71.0" cy="276.9" rx="26.0" ry="14.0" fill="#e4cccc" opacity="0.5" filter="url(#bl8)"/>
<ellipse cx="51.0" cy="296.9" rx="12.0" ry="8.0" fill="#ced2e6" opacity="0.7" filter="url(#bl5)"/>
<circle cx="87.9" cy="287.4" r="0.45" fill="#a05a30" opacity="0.35"/>
<circle cx="87.2" cy="266.6" r="0.41" fill="#a05a30" opacity="0.53"/>
<circle cx="57.7" cy="299.5" r="0.46" fill="#a05a30" opacity="0.69"/>
<circle cx="42.4" cy="279.8" r="0.40" fill="#a05a30" opacity="0.53"/>
<circle cx="82.0" cy="286.0" r="0.58" fill="#a05a30" opacity="0.48"/>
<circle cx="64.4" cy="293.9" r="0.47" fill="#a05a30" opacity="0.41"/>
<circle cx="99.2" cy="268.0" r="0.32" fill="#a05a30" opacity="0.52"/>
<circle cx="98.5" cy="299.0" r="0.54" fill="#a05a30" opacity="0.54"/>
<circle cx="73.3" cy="271.2" r="0.35" fill="#a05a30" opacity="0.48"/>
<circle cx="93.7" cy="284.2" r="0.59" fill="#a05a30" opacity="0.62"/>
<circle cx="75.3" cy="286.0" r="0.43" fill="#a05a30" opacity="0.66"/>
<circle cx="93.6" cy="265.7" r="0.57" fill="#a05a30" opacity="0.57"/>
<circle cx="63.8" cy="293.6" r="0.43" fill="#a05a30" opacity="0.58"/>
<circle cx="72.9" cy="288.0" r="0.58" fill="#a05a30" opacity="0.66"/>
<circle cx="71.4" cy="276.0" r="0.51" fill="#a05a30" opacity="0.57"/>
<circle cx="47.0" cy="282.0" r="0.38" fill="#a05a30" opacity="0.56"/>
<circle cx="51.6" cy="271.6" r="0.38" fill="#a05a30" opacity="0.41"/>
<circle cx="76.7" cy="299.5" r="0.49" fill="#a05a30" opacity="0.56"/>
<circle cx="89.1" cy="276.2" r="0.43" fill="#a05a30" opacity="0.56"/>
<circle cx="54.1" cy="294.0" r="0.58" fill="#a05a30" opacity="0.65"/>
<circle cx="45.1" cy="302.0" r="0.37" fill="#a05a30" opacity="0.35"/>
<circle cx="80.0" cy="274.0" r="0.35" fill="#a05a30" opacity="0.54"/>
<circle cx="74.9" cy="283.4" r="0.45" fill="#a05a30" opacity="0.55"/>
<circle cx="90.1" cy="292.4" r="0.51" fill="#a05a30" opacity="0.63"/>
<circle cx="70.7" cy="288.4" r="0.33" fill="#a05a30" opacity="0.33"/>
<circle cx="69.6" cy="290.5" r="0.37" fill="#a05a30" opacity="0.68"/>
<circle cx="59.3" cy="281.1" r="0.44" fill="#a05a30" opacity="0.69"/>
<circle cx="50.7" cy="269.3" r="0.49" fill="#a05a30" opacity="0.44"/>
<circle cx="62.7" cy="263.4" r="0.58" fill="#a05a30" opacity="0.48"/>
<circle cx="77.6" cy="269.0" r="0.58" fill="#a05a30" opacity="0.34"/>
<circle cx="85.1" cy="260.1" r="0.46" fill="#a05a30" opacity="0.43"/>
<circle cx="101.1" cy="278.5" r="0.55" fill="#a05a30" opacity="0.31"/>
<circle cx="55.9" cy="305.5" r="0.41" fill="#a05a30" opacity="0.32"/>
<circle cx="57.4" cy="274.8" r="0.46" fill="#a05a30" opacity="0.45"/>
<circle cx="60.3" cy="280.3" r="0.44" fill="#a05a30" opacity="0.37"/>
<circle cx="73.7" cy="285.3" r="0.47" fill="#a05a30" opacity="0.60"/>
<circle cx="69.6" cy="267.4" r="0.58" fill="#a05a30" opacity="0.35"/>
<circle cx="60.2" cy="277.5" r="0.42" fill="#a05a30" opacity="0.38"/>
<circle cx="95.4" cy="271.8" r="0.46" fill="#a05a30" opacity="0.54"/>
<circle cx="49.2" cy="278.2" r="0.34" fill="#a05a30" opacity="0.52"/>
<circle cx="87.2" cy="299.0" r="0.58" fill="#a05a30" opacity="0.35"/>
<circle cx="70.0" cy="289.8" r="0.41" fill="#a05a30" opacity="0.68"/>
<circle cx="72.2" cy="299.8" r="0.32" fill="#a05a30" opacity="0.46"/>
<circle cx="85.0" cy="298.2" r="0.45" fill="#a05a30" opacity="0.64"/>
<circle cx="89.0" cy="277.3" r="0.51" fill="#a05a30" opacity="0.51"/>
<circle cx="48.1" cy="301.2" r="0.55" fill="#a05a30" opacity="0.66"/>
<circle cx="55.9" cy="295.2" r="0.31" fill="#a05a30" opacity="0.50"/>
<circle cx="60.1" cy="281.8" r="0.41" fill="#a05a30" opacity="0.52"/>
<circle cx="68.4" cy="294.3" r="0.50" fill="#a05a30" opacity="0.41"/>
<circle cx="53.5" cy="268.6" r="0.40" fill="#a05a30" opacity="0.47"/>
<circle cx="72.9" cy="294.6" r="0.59" fill="#a05a30" opacity="0.40"/>
<circle cx="59.6" cy="282.5" r="0.30" fill="#a05a30" opacity="0.55"/>
<circle cx="43.4" cy="286.2" r="0.48" fill="#a05a30" opacity="0.45"/>
<circle cx="103.6" cy="272.3" r="0.31" fill="#a05a30" opacity="0.34"/>
<circle cx="56.2" cy="293.3" r="0.52" fill="#a05a30" opacity="0.44"/>
<circle cx="96.8" cy="264.9" r="0.37" fill="#a05a30" opacity="0.53"/>
<circle cx="74.7" cy="295.9" r="0.39" fill="#a05a30" opacity="0.66"/>
<circle cx="80.9" cy="290.9" r="0.47" fill="#a05a30" opacity="0.38"/>
<circle cx="76.6" cy="303.4" r="0.30" fill="#a05a30" opacity="0.43"/>
<circle cx="60.5" cy="269.5" r="0.53" fill="#a05a30" opacity="0.56"/>
<circle cx="49.5" cy="291.6" r="0.56" fill="#a05a30" opacity="0.33"/>
<circle cx="42.2" cy="286.6" r="0.56" fill="#a05a30" opacity="0.52"/>
<circle cx="73.0" cy="276.9" r="0.47" fill="#a05a30" opacity="0.66"/>
<circle cx="78.8" cy="293.7" r="0.44" fill="#a05a30" opacity="0.65"/>
<circle cx="89.6" cy="282.0" r="0.39" fill="#a05a30" opacity="0.42"/>
<circle cx="102.9" cy="288.4" r="0.32" fill="#a05a30" opacity="0.51"/>
<circle cx="68.0" cy="286.4" r="0.39" fill="#a05a30" opacity="0.66"/>
<circle cx="71.5" cy="297.7" r="0.38" fill="#a05a30" opacity="0.66"/>
<circle cx="75.5" cy="283.8" r="0.43" fill="#a05a30" opacity="0.68"/>
<circle cx="76.6" cy="283.3" r="0.41" fill="#a05a30" opacity="0.48"/>
<circle cx="58.1" cy="278.8" r="0.38" fill="#a05a30" opacity="0.33"/>
<circle cx="64.1" cy="258.2" r="0.50" fill="#a05a30" opacity="0.34"/>
<circle cx="98.2" cy="272.5" r="0.38" fill="#a05a30" opacity="0.52"/>
<circle cx="59.4" cy="292.6" r="0.39" fill="#a05a30" opacity="0.67"/>
<circle cx="43.6" cy="259.7" r="0.56" fill="#a05a30" opacity="0.58"/>
<circle cx="57.6" cy="288.6" r="0.41" fill="#a05a30" opacity="0.50"/>
<circle cx="58.4" cy="283.5" r="0.49" fill="#a05a30" opacity="0.64"/>
<circle cx="57.2" cy="285.0" r="0.47" fill="#a05a30" opacity="0.65"/>
<circle cx="71.3" cy="299.5" r="0.58" fill="#a05a30" opacity="0.46"/>
<circle cx="66.7" cy="304.7" r="0.47" fill="#a05a30" opacity="0.51"/>
<circle cx="90.1" cy="286.7" r="0.46" fill="#a05a30" opacity="0.56"/>
<circle cx="57.5" cy="275.5" r="0.30" fill="#a05a30" opacity="0.59"/>
<circle cx="93.1" cy="293.2" r="0.59" fill="#a05a30" opacity="0.60"/>
<circle cx="47.8" cy="272.7" r="0.58" fill="#a05a30" opacity="0.34"/>
<circle cx="96.5" cy="296.2" r="0.34" fill="#a05a30" opacity="0.38"/>
<circle cx="87.2" cy="289.1" r="0.31" fill="#a05a30" opacity="0.51"/>
<circle cx="52.9" cy="299.2" r="0.46" fill="#a05a30" opacity="0.31"/>
<circle cx="66.0" cy="257.4" r="0.57" fill="#a05a30" opacity="0.65"/>
<circle cx="86.4" cy="257.0" r="0.58" fill="#a05a30" opacity="0.41"/>
<circle cx="82.1" cy="294.5" r="0.47" fill="#a05a30" opacity="0.35"/>
</g></g>
<rect x="41.65" y="257.55" width="61.90" height="48.00" rx="0.8" fill="none" stroke="#505050" stroke-width="1.3"/>
<g clip-path="url(#cp14)"><g filter="url(#nzB)">
<rect x="105.4" y="256.9" width="62.80" height="49.30" fill="#e0d0d4"/>
<ellipse cx="127.4" cy="286.9" rx="7.0" ry="22.0" fill="#e8bca8" opacity="0.55" filter="url(#bl5)" transform="rotate(-10 127.4 286.9)"/>
<ellipse cx="117.4" cy="266.9" rx="14.0" ry="8.0" fill="#e4c0b0" opacity="0.6" filter="url(#bl5)"/>
<ellipse cx="155.4" cy="266.9" rx="12.0" ry="10.0" fill="#e6c4b4" opacity="0.6" filter="url(#bl5)"/>
<ellipse cx="155.4" cy="294.9" rx="12.0" ry="10.0" fill="#d4d0e2" opacity="0.7" filter="url(#bl5)"/>
<g fill="none" stroke="#cc8a5c" stroke-linecap="round" filter="url(#bl04)">
<path d="M120.5 297.2Q120.8 292.9 121.1 288.6M140.6 281.3Q139.7 278.9 138.9 276.5M123.6 270.3Q123.5 266.2 123.4 262.1M128.4 281.6Q128.4 277.3 128.5 272.9M158.8 276.7Q158.8 274.6 158.9 272.6" stroke-width="0.6" opacity="0.2"/>
<path d="M146.9 278.1Q146.2 274.1 145.6 270.2M129.6 304.3Q128.5 300.4 127.4 296.5M165.1 266.7Q164.6 265.2 164.0 263.6" stroke-width="0.7" opacity="0.2"/>
<path d="M166.2 308.5Q165.1 305.2 164.0 301.9M136.1 297.8Q135.1 293.8 134.1 289.8M149.4 283.5Q149.1 281.6 148.7 279.8M135.4 306.0Q135.8 302.7 136.3 299.3" stroke-width="0.6" opacity="0.3"/>
<path d="M118.8 268.1Q119.1 264.4 119.4 260.7M147.2 279.6Q146.4 275.7 145.6 271.7M147.5 295.8Q145.4 292.0 143.3 288.1" stroke-width="0.7" opacity="0.3"/>
<path d="M139.7 275.7Q139.9 271.8 140.2 268.0M114.7 283.6Q115.7 279.7 116.7 275.7M104.5 285.3Q106.6 282.7 108.8 280.1M161.5 267.4Q161.2 265.8 160.8 264.2M154.8 297.0Q154.1 294.9 153.4 292.9M118.3 295.9Q118.3 294.0 118.4 292.1M134.3 307.7Q134.4 303.2 134.6 298.7M166.2 300.6Q165.7 297.1 165.1 293.5M108.7 260.7Q109.2 258.8 109.7 256.8" stroke-width="0.5" opacity="0.2"/>
<path d="M109.7 261.5Q110.6 258.8 111.4 256.2" stroke-width="0.6" opacity="0.4"/>
<path d="M107.9 308.0Q108.1 305.5 108.3 302.9M130.9 304.6Q132.0 301.7 133.2 298.8" stroke-width="0.5" opacity="0.3"/>
<path d="M128.0 261.3Q127.7 257.7 127.5 254.0M153.9 276.5Q153.7 273.8 153.5 271.1" stroke-width="0.8" opacity="0.2"/>
<path d="M149.7 287.9Q149.3 285.2 148.9 282.4M116.1 293.4Q116.8 291.7 117.6 290.0" stroke-width="0.8" opacity="0.4"/>
<path d="M150.5 293.2Q150.5 291.2 150.4 289.2M134.7 285.7Q135.1 284.1 135.5 282.5M145.7 298.5Q145.4 294.9 145.0 291.2" stroke-width="0.5" opacity="0.4"/>
<path d="M151.4 299.2Q151.9 296.4 152.4 293.5M133.1 278.5Q133.6 274.8 134.2 271.1M115.8 275.2Q116.5 271.7 117.3 268.2" stroke-width="0.8" opacity="0.3"/>
<path d="M165.6 275.7Q165.1 272.6 164.7 269.4" stroke-width="0.7" opacity="0.4"/>
<path d="M151.7 287.4Q150.9 285.1 150.1 282.7" stroke-width="0.4" opacity="0.2"/>
<path d="M133.6 301.1Q133.8 297.2 134.0 293.2" stroke-width="0.4" opacity="0.3"/>
</g>
<circle cx="155.6" cy="266.5" r="0.36" fill="#a05a30" opacity="0.64"/>
<circle cx="132.8" cy="257.9" r="0.52" fill="#a05a30" opacity="0.35"/>
<circle cx="122.5" cy="302.3" r="0.36" fill="#a05a30" opacity="0.63"/>
<circle cx="122.1" cy="296.0" r="0.41" fill="#a05a30" opacity="0.52"/>
<circle cx="148.3" cy="292.3" r="0.36" fill="#a05a30" opacity="0.57"/>
<circle cx="115.8" cy="269.0" r="0.53" fill="#a05a30" opacity="0.36"/>
<circle cx="131.4" cy="262.5" r="0.47" fill="#a05a30" opacity="0.37"/>
<circle cx="128.1" cy="305.2" r="0.43" fill="#a05a30" opacity="0.50"/>
<circle cx="107.4" cy="269.9" r="0.33" fill="#a05a30" opacity="0.55"/>
<circle cx="115.1" cy="265.6" r="0.34" fill="#a05a30" opacity="0.60"/>
<circle cx="146.4" cy="271.3" r="0.39" fill="#a05a30" opacity="0.41"/>
<circle cx="139.8" cy="285.0" r="0.34" fill="#a05a30" opacity="0.36"/>
<circle cx="144.7" cy="270.7" r="0.50" fill="#a05a30" opacity="0.37"/>
<circle cx="111.6" cy="260.3" r="0.56" fill="#a05a30" opacity="0.51"/>
<circle cx="106.6" cy="274.5" r="0.49" fill="#a05a30" opacity="0.39"/>
<circle cx="157.6" cy="257.1" r="0.46" fill="#a05a30" opacity="0.53"/>
<circle cx="117.2" cy="305.6" r="0.46" fill="#a05a30" opacity="0.35"/>
<circle cx="152.8" cy="258.3" r="0.50" fill="#a05a30" opacity="0.63"/>
<circle cx="145.5" cy="258.0" r="0.32" fill="#a05a30" opacity="0.63"/>
<circle cx="158.6" cy="270.2" r="0.58" fill="#a05a30" opacity="0.63"/>
<circle cx="112.1" cy="300.5" r="0.30" fill="#a05a30" opacity="0.43"/>
<circle cx="118.5" cy="267.3" r="0.45" fill="#a05a30" opacity="0.32"/>
<circle cx="166.0" cy="267.3" r="0.50" fill="#a05a30" opacity="0.44"/>
<circle cx="163.0" cy="284.5" r="0.45" fill="#a05a30" opacity="0.60"/>
<circle cx="140.7" cy="279.1" r="0.35" fill="#a05a30" opacity="0.62"/>
<circle cx="144.9" cy="279.8" r="0.60" fill="#a05a30" opacity="0.49"/>
<circle cx="152.0" cy="265.0" r="0.41" fill="#a05a30" opacity="0.55"/>
<circle cx="121.6" cy="306.0" r="0.60" fill="#a05a30" opacity="0.56"/>
<circle cx="150.6" cy="270.3" r="0.53" fill="#a05a30" opacity="0.64"/>
<circle cx="134.2" cy="284.8" r="0.50" fill="#a05a30" opacity="0.40"/>
<circle cx="108.3" cy="265.9" r="0.46" fill="#a05a30" opacity="0.55"/>
<circle cx="159.1" cy="270.1" r="0.35" fill="#a05a30" opacity="0.47"/>
<circle cx="115.7" cy="269.7" r="0.45" fill="#a05a30" opacity="0.57"/>
<circle cx="112.0" cy="265.5" r="0.44" fill="#a05a30" opacity="0.51"/>
<circle cx="116.4" cy="289.4" r="0.47" fill="#a05a30" opacity="0.69"/>
<circle cx="165.3" cy="287.8" r="0.33" fill="#a05a30" opacity="0.51"/>
<circle cx="122.4" cy="270.6" r="0.32" fill="#a05a30" opacity="0.58"/>
<circle cx="146.6" cy="270.4" r="0.37" fill="#a05a30" opacity="0.70"/>
<circle cx="140.1" cy="291.3" r="0.37" fill="#a05a30" opacity="0.68"/>
<circle cx="150.5" cy="282.0" r="0.33" fill="#a05a30" opacity="0.47"/>
<circle cx="107.0" cy="267.3" r="0.53" fill="#a05a30" opacity="0.34"/>
<circle cx="118.3" cy="273.7" r="0.59" fill="#a05a30" opacity="0.37"/>
<circle cx="131.5" cy="283.2" r="0.31" fill="#a05a30" opacity="0.53"/>
<circle cx="109.8" cy="272.7" r="0.40" fill="#a05a30" opacity="0.70"/>
<circle cx="132.9" cy="271.6" r="0.40" fill="#a05a30" opacity="0.42"/>
<circle cx="115.6" cy="272.5" r="0.51" fill="#a05a30" opacity="0.44"/>
<circle cx="119.8" cy="258.8" r="0.54" fill="#a05a30" opacity="0.42"/>
<circle cx="122.4" cy="298.7" r="0.59" fill="#a05a30" opacity="0.52"/>
<circle cx="109.8" cy="298.1" r="0.53" fill="#a05a30" opacity="0.31"/>
<circle cx="123.5" cy="298.1" r="0.44" fill="#a05a30" opacity="0.37"/>
<circle cx="167.3" cy="267.4" r="0.35" fill="#a05a30" opacity="0.58"/>
<circle cx="167.4" cy="291.8" r="0.31" fill="#a05a30" opacity="0.31"/>
<circle cx="118.9" cy="289.7" r="0.59" fill="#a05a30" opacity="0.35"/>
<circle cx="147.4" cy="290.2" r="0.31" fill="#a05a30" opacity="0.66"/>
<circle cx="125.1" cy="275.4" r="0.54" fill="#a05a30" opacity="0.52"/>
</g></g>
<rect x="106.05" y="257.55" width="61.50" height="48.00" rx="0.8" fill="none" stroke="#505050" stroke-width="1.3"/>
<g clip-path="url(#cp15)"><g filter="url(#nzB)">
<rect x="169.2" y="256.9" width="63.00" height="49.30" fill="#ecd0b2"/>
<ellipse cx="181.2" cy="266.9" rx="16.0" ry="8.0" fill="#d09860" opacity="0.5" filter="url(#bl5)"/>
<ellipse cx="214.2" cy="284.9" rx="5.0" ry="18.0" fill="#cc9868" opacity="0.5" filter="url(#bl3)" transform="rotate(-25 214.2 284.9)"/>
<ellipse cx="199.2" cy="284.9" rx="12.0" ry="12.0" fill="#f2d8b8" opacity="0.7" filter="url(#bl5)"/>
<ellipse cx="177.2" cy="296.9" rx="8.0" ry="8.0" fill="#e4d4d4" opacity="0.6" filter="url(#bl5)"/>
<ellipse cx="225.2" cy="300.9" rx="8.0" ry="6.0" fill="#cc9868" opacity="0.4" filter="url(#bl3)"/>
<g fill="none" stroke="#c07a38" stroke-linecap="round" filter="url(#bl04)">
<path d="M206.9 263.3Q208.4 259.6 210.4 256.2M212.5 263.1Q212.4 260.8 213.7 258.9M184.8 300.0Q183.2 297.2 183.0 293.9M228.3 290.4Q230.5 289.3 232.1 287.4" stroke-width="0.8" opacity="0.3"/>
<path d="M209.2 307.5Q209.1 304.8 210.5 302.5" stroke-width="0.4" opacity="0.4"/>
<path d="M173.4 261.9Q172.2 259.1 173.1 256.2M226.0 270.7Q229.0 267.7 233.2 266.7M228.3 280.7Q230.3 279.6 232.1 278.4M222.2 284.5Q223.6 283.2 225.2 282.0M188.7 280.4Q188.1 277.3 187.3 274.3M177.4 295.3Q176.3 293.4 175.1 291.5M176.4 283.3Q174.9 279.1 171.7 275.8M192.0 284.0Q192.2 280.8 191.7 277.6" stroke-width="0.5" opacity="0.2"/>
<path d="M180.5 278.7Q179.9 274.6 178.2 270.8M172.9 278.3Q171.1 275.7 168.7 273.7M217.0 283.0Q219.7 280.3 222.9 278.3" stroke-width="0.9" opacity="0.4"/>
<path d="M182.8 294.0Q182.1 291.0 180.3 288.5M210.1 288.7Q211.1 287.5 212.1 286.3M183.1 270.1Q182.6 265.8 180.1 262.2M176.9 284.8Q174.8 281.7 172.2 279.0" stroke-width="0.6" opacity="0.4"/>
<path d="M183.6 298.1Q182.6 296.6 182.5 294.8" stroke-width="0.5" opacity="0.4"/>
<path d="M173.8 292.9Q173.6 290.9 172.5 289.2M189.4 260.1Q187.5 258.0 187.2 255.2M192.3 300.3Q194.2 297.0 195.1 293.3" stroke-width="0.7" opacity="0.2"/>
<path d="M197.0 289.8Q196.7 286.0 196.7 282.2M197.4 267.2Q197.7 263.4 197.9 259.5M199.1 282.9Q198.9 279.2 200.6 275.8M186.7 282.5Q186.6 280.6 186.3 278.8M223.2 287.1Q225.0 284.2 227.3 281.6M213.0 300.2Q213.3 297.9 214.7 296.1" stroke-width="0.4" opacity="0.2"/>
<path d="M228.7 282.2Q231.1 282.0 232.9 280.5M194.8 301.6Q194.4 298.1 194.9 294.6M203.1 271.3Q203.6 269.7 203.9 268.0M218.5 271.6Q220.0 269.9 221.2 268.1M188.1 294.9Q187.4 292.8 186.8 290.7" stroke-width="0.9" opacity="0.3"/>
<path d="M203.6 291.8Q203.9 289.1 205.1 286.7M226.9 289.2Q228.3 287.0 229.8 284.9M176.1 304.0Q175.0 300.6 173.1 297.5" stroke-width="0.5" opacity="0.3"/>
<path d="M190.8 297.5Q190.2 295.6 189.2 293.9M221.3 262.1Q221.9 259.1 221.8 256.1" stroke-width="0.8" opacity="0.4"/>
<path d="M192.0 266.2Q192.2 261.7 191.2 257.4M171.3 288.2Q170.0 284.3 168.2 280.7M216.5 309.5Q219.0 305.8 222.3 302.8" stroke-width="0.8" opacity="0.2"/>
<path d="M208.4 307.3Q209.8 304.3 211.6 301.5M224.0 280.0Q225.9 279.4 226.9 277.7M185.6 308.2Q185.2 305.5 184.6 302.8" stroke-width="0.6" opacity="0.2"/>
<path d="M213.5 283.6Q215.6 281.3 216.7 278.5M195.1 300.3Q197.5 296.8 199.2 292.9M196.4 303.9Q195.8 301.4 196.1 298.7M196.2 289.6Q197.9 286.8 197.7 283.5" stroke-width="0.6" opacity="0.3"/>
<path d="M218.2 297.0Q220.2 293.5 222.6 290.3M207.5 275.1Q210.0 273.0 212.6 271.2M196.5 262.8Q195.9 260.5 195.8 258.1M214.8 295.7Q214.3 292.1 216.1 289.0" stroke-width="0.7" opacity="0.3"/>
<path d="M213.1 301.0Q216.9 298.0 217.2 293.2M222.1 293.0Q224.6 290.1 227.9 288.5" stroke-width="0.7" opacity="0.4"/>
<path d="M198.4 307.0Q199.5 303.4 199.5 299.7M204.8 292.2Q206.4 289.6 206.9 286.6M180.1 283.1Q178.9 280.2 178.0 277.1" stroke-width="0.9" opacity="0.2"/>
<path d="M212.5 307.3Q213.4 305.1 214.6 303.1" stroke-width="0.4" opacity="0.3"/>
</g>
<circle cx="197.2" cy="262.9" r="0.68" fill="#8a4a18" opacity="0.58"/>
<circle cx="172.7" cy="301.3" r="0.56" fill="#8a4a18" opacity="0.63"/>
<circle cx="217.8" cy="265.3" r="0.43" fill="#8a4a18" opacity="0.37"/>
<circle cx="220.3" cy="303.6" r="0.53" fill="#8a4a18" opacity="0.57"/>
<circle cx="230.7" cy="282.6" r="0.48" fill="#8a4a18" opacity="0.41"/>
<circle cx="231.3" cy="262.9" r="0.38" fill="#8a4a18" opacity="0.64"/>
<circle cx="170.9" cy="266.7" r="0.51" fill="#8a4a18" opacity="0.39"/>
<circle cx="193.4" cy="258.1" r="0.57" fill="#8a4a18" opacity="0.33"/>
<circle cx="187.4" cy="261.9" r="0.58" fill="#8a4a18" opacity="0.39"/>
<circle cx="204.1" cy="258.5" r="0.53" fill="#8a4a18" opacity="0.44"/>
<circle cx="226.4" cy="266.5" r="0.42" fill="#8a4a18" opacity="0.65"/>
<circle cx="173.0" cy="281.1" r="0.49" fill="#8a4a18" opacity="0.42"/>
<circle cx="179.8" cy="281.5" r="0.31" fill="#8a4a18" opacity="0.30"/>
<circle cx="187.2" cy="275.5" r="0.40" fill="#8a4a18" opacity="0.58"/>
<circle cx="195.4" cy="286.9" r="0.54" fill="#8a4a18" opacity="0.58"/>
<circle cx="227.9" cy="284.6" r="0.58" fill="#8a4a18" opacity="0.52"/>
<circle cx="174.0" cy="298.0" r="0.51" fill="#8a4a18" opacity="0.32"/>
<circle cx="216.0" cy="281.6" r="0.68" fill="#8a4a18" opacity="0.47"/>
<circle cx="198.9" cy="301.1" r="0.67" fill="#8a4a18" opacity="0.61"/>
<circle cx="197.2" cy="278.2" r="0.59" fill="#8a4a18" opacity="0.66"/>
<circle cx="198.1" cy="291.5" r="0.52" fill="#8a4a18" opacity="0.52"/>
<circle cx="182.7" cy="270.8" r="0.40" fill="#8a4a18" opacity="0.69"/>
<circle cx="170.8" cy="267.7" r="0.38" fill="#8a4a18" opacity="0.63"/>
<circle cx="211.5" cy="272.1" r="0.34" fill="#8a4a18" opacity="0.57"/>
<circle cx="216.2" cy="288.5" r="0.59" fill="#8a4a18" opacity="0.54"/>
<circle cx="171.1" cy="296.1" r="0.65" fill="#8a4a18" opacity="0.37"/>
<circle cx="193.3" cy="305.4" r="0.69" fill="#8a4a18" opacity="0.63"/>
<circle cx="222.3" cy="264.7" r="0.65" fill="#8a4a18" opacity="0.63"/>
<circle cx="181.8" cy="301.9" r="0.63" fill="#8a4a18" opacity="0.67"/>
<circle cx="225.8" cy="261.5" r="0.37" fill="#8a4a18" opacity="0.62"/>
<circle cx="180.1" cy="274.1" r="0.62" fill="#8a4a18" opacity="0.63"/>
<circle cx="194.4" cy="277.2" r="0.58" fill="#8a4a18" opacity="0.70"/>
<circle cx="208.8" cy="274.0" r="0.40" fill="#8a4a18" opacity="0.37"/>
<circle cx="207.7" cy="292.4" r="0.39" fill="#8a4a18" opacity="0.60"/>
<circle cx="207.3" cy="285.1" r="0.51" fill="#8a4a18" opacity="0.46"/>
<circle cx="170.1" cy="283.4" r="0.56" fill="#8a4a18" opacity="0.66"/>
<circle cx="230.5" cy="288.8" r="0.36" fill="#8a4a18" opacity="0.64"/>
<circle cx="195.3" cy="304.4" r="0.68" fill="#8a4a18" opacity="0.34"/>
<circle cx="172.5" cy="259.3" r="0.57" fill="#8a4a18" opacity="0.50"/>
<circle cx="208.5" cy="272.9" r="0.54" fill="#8a4a18" opacity="0.34"/>
<circle cx="182.2" cy="293.1" r="0.39" fill="#8a4a18" opacity="0.35"/>
<circle cx="210.1" cy="305.4" r="0.67" fill="#8a4a18" opacity="0.65"/>
<circle cx="214.1" cy="257.3" r="0.36" fill="#8a4a18" opacity="0.53"/>
<circle cx="202.7" cy="298.2" r="0.31" fill="#8a4a18" opacity="0.55"/>
<circle cx="173.7" cy="294.1" r="0.34" fill="#8a4a18" opacity="0.49"/>
<circle cx="217.8" cy="305.5" r="0.62" fill="#8a4a18" opacity="0.61"/>
<circle cx="188.0" cy="288.4" r="0.52" fill="#8a4a18" opacity="0.50"/>
<circle cx="206.7" cy="278.8" r="0.45" fill="#8a4a18" opacity="0.61"/>
<circle cx="209.9" cy="305.0" r="0.67" fill="#8a4a18" opacity="0.62"/>
<circle cx="176.1" cy="281.7" r="0.50" fill="#8a4a18" opacity="0.62"/>
<circle cx="226.5" cy="266.6" r="0.30" fill="#8a4a18" opacity="0.65"/>
<circle cx="230.7" cy="273.6" r="0.54" fill="#8a4a18" opacity="0.45"/>
<circle cx="193.4" cy="288.3" r="0.58" fill="#8a4a18" opacity="0.66"/>
<circle cx="192.2" cy="281.3" r="0.48" fill="#8a4a18" opacity="0.69"/>
<circle cx="201.8" cy="302.2" r="0.69" fill="#8a4a18" opacity="0.31"/>
<circle cx="217.8" cy="262.4" r="0.50" fill="#8a4a18" opacity="0.55"/>
<circle cx="174.2" cy="285.4" r="0.58" fill="#8a4a18" opacity="0.44"/>
<circle cx="203.2" cy="276.4" r="0.36" fill="#8a4a18" opacity="0.40"/>
<circle cx="228.5" cy="288.3" r="0.52" fill="#8a4a18" opacity="0.62"/>
<circle cx="221.9" cy="294.2" r="0.46" fill="#8a4a18" opacity="0.52"/>
</g></g>
<rect x="169.85" y="257.55" width="61.70" height="48.00" rx="0.8" fill="none" stroke="#505050" stroke-width="1.3"/>
<g clip-path="url(#cp16)"><g filter="url(#nzB)">
<rect x="233.4" y="256.9" width="61.70" height="49.30" fill="#d8d0de"/>
<ellipse cx="281.4" cy="272.9" rx="12.0" ry="10.0" fill="#e4c0a4" opacity="0.7" filter="url(#bl5)"/>
<ellipse cx="258.4" cy="286.9" rx="14.0" ry="10.0" fill="#e2ccd2" opacity="0.6" filter="url(#bl5)"/>
<ellipse cx="241.4" cy="266.9" rx="10.0" ry="8.0" fill="#ccd2e8" opacity="0.7" filter="url(#bl5)"/>
<circle cx="253.3" cy="260.1" r="0.58" fill="#904a28" opacity="0.33"/>
<circle cx="256.4" cy="298.9" r="0.39" fill="#904a28" opacity="0.66"/>
<circle cx="234.7" cy="264.3" r="0.43" fill="#904a28" opacity="0.55"/>
<circle cx="282.3" cy="301.1" r="0.55" fill="#904a28" opacity="0.37"/>
<circle cx="294.6" cy="259.2" r="0.44" fill="#904a28" opacity="0.44"/>
<circle cx="234.9" cy="266.9" r="0.60" fill="#904a28" opacity="0.69"/>
<circle cx="254.6" cy="306.2" r="0.52" fill="#904a28" opacity="0.31"/>
<circle cx="270.6" cy="267.0" r="0.38" fill="#904a28" opacity="0.59"/>
<circle cx="246.2" cy="274.3" r="0.30" fill="#904a28" opacity="0.43"/>
<circle cx="252.1" cy="262.5" r="0.33" fill="#904a28" opacity="0.46"/>
<circle cx="238.4" cy="303.1" r="0.38" fill="#904a28" opacity="0.45"/>
<circle cx="237.3" cy="296.9" r="0.36" fill="#904a28" opacity="0.33"/>
<circle cx="256.3" cy="301.9" r="0.58" fill="#904a28" opacity="0.49"/>
<circle cx="269.2" cy="260.5" r="0.57" fill="#904a28" opacity="0.60"/>
<circle cx="248.6" cy="298.3" r="0.35" fill="#904a28" opacity="0.49"/>
<circle cx="251.1" cy="284.9" r="0.38" fill="#904a28" opacity="0.52"/>
<circle cx="249.2" cy="257.7" r="0.33" fill="#904a28" opacity="0.62"/>
<circle cx="261.0" cy="282.2" r="0.50" fill="#904a28" opacity="0.40"/>
<circle cx="245.0" cy="277.0" r="0.53" fill="#904a28" opacity="0.59"/>
<circle cx="261.8" cy="286.8" r="0.38" fill="#904a28" opacity="0.68"/>
<circle cx="272.9" cy="296.5" r="0.41" fill="#904a28" opacity="0.53"/>
<circle cx="277.2" cy="283.1" r="0.53" fill="#904a28" opacity="0.41"/>
<circle cx="281.8" cy="272.6" r="0.45" fill="#904a28" opacity="0.36"/>
<circle cx="258.3" cy="300.6" r="0.31" fill="#904a28" opacity="0.38"/>
<circle cx="266.9" cy="289.3" r="0.51" fill="#904a28" opacity="0.57"/>
<circle cx="277.8" cy="286.6" r="0.35" fill="#904a28" opacity="0.52"/>
<circle cx="250.7" cy="257.2" r="0.45" fill="#904a28" opacity="0.69"/>
<circle cx="262.2" cy="294.4" r="0.49" fill="#904a28" opacity="0.31"/>
<circle cx="267.3" cy="305.6" r="0.50" fill="#904a28" opacity="0.42"/>
<circle cx="289.2" cy="289.9" r="0.58" fill="#904a28" opacity="0.64"/>
<circle cx="269.4" cy="280.0" r="0.46" fill="#904a28" opacity="0.43"/>
<circle cx="286.0" cy="263.2" r="0.60" fill="#904a28" opacity="0.44"/>
<circle cx="260.5" cy="286.9" r="0.39" fill="#904a28" opacity="0.54"/>
<circle cx="236.8" cy="299.8" r="0.33" fill="#904a28" opacity="0.65"/>
<circle cx="286.4" cy="295.7" r="0.53" fill="#904a28" opacity="0.37"/>
<circle cx="268.4" cy="259.9" r="0.52" fill="#904a28" opacity="0.62"/>
<circle cx="246.4" cy="278.7" r="0.33" fill="#904a28" opacity="0.57"/>
<circle cx="276.5" cy="259.9" r="0.48" fill="#904a28" opacity="0.65"/>
<circle cx="244.4" cy="301.6" r="0.38" fill="#904a28" opacity="0.31"/>
<circle cx="238.6" cy="294.2" r="0.36" fill="#904a28" opacity="0.64"/>
<circle cx="260.3" cy="261.0" r="0.54" fill="#904a28" opacity="0.43"/>
<circle cx="241.5" cy="257.1" r="0.39" fill="#904a28" opacity="0.48"/>
<circle cx="264.0" cy="285.6" r="0.32" fill="#904a28" opacity="0.30"/>
<circle cx="288.1" cy="277.8" r="0.52" fill="#904a28" opacity="0.66"/>
<circle cx="270.1" cy="293.4" r="0.37" fill="#904a28" opacity="0.38"/>
<circle cx="265.1" cy="305.5" r="0.59" fill="#904a28" opacity="0.39"/>
<circle cx="272.5" cy="271.2" r="0.41" fill="#904a28" opacity="0.41"/>
<circle cx="294.8" cy="275.8" r="0.44" fill="#904a28" opacity="0.33"/>
<circle cx="285.7" cy="261.1" r="0.55" fill="#904a28" opacity="0.40"/>
<circle cx="247.9" cy="259.0" r="0.41" fill="#904a28" opacity="0.68"/>
</g></g>
<rect x="234.05" y="257.55" width="60.40" height="48.00" rx="0.8" fill="none" stroke="#505050" stroke-width="1.3"/>
</svg>
</body></html>
